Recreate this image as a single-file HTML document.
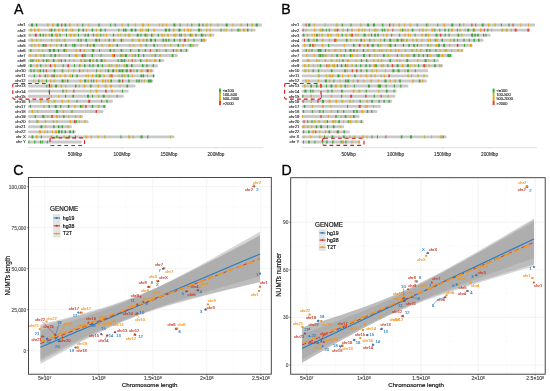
<!DOCTYPE html>
<html><head><meta charset="utf-8"><title>NUMTs figure</title>
<style>html,body{margin:0;padding:0;background:#fff;overflow:hidden}svg{display:block}text{font-family:"Liberation Sans",sans-serif}.t{stroke-width:0.18px}</style></head>
<body>
<svg width="550" height="391" viewBox="0 0 550 391">
<rect width="550" height="391" fill="#fff"/>
<g id="panelA">
<text x="13.9" y="14.4" font-size="14.1" fill="#000" stroke="#000" stroke-width="0.3">A</text>
<rect x="28.0" y="23.55" width="234.0" height="2.9" rx="1.2" fill="#c9c9c9"/>
<rect x="31.0" y="23.55" width="2.0" height="2.9" fill="#3aa637"/>
<rect x="35.9" y="23.55" width="1.4" height="2.9" fill="#3aa637"/>
<rect x="47.0" y="23.55" width="1.6" height="2.9" fill="#c4b636"/>
<rect x="52.1" y="23.55" width="1.6" height="2.9" fill="#f0a212"/>
<rect x="56.7" y="23.55" width="2.0" height="2.9" fill="#3aa637"/>
<rect x="61.2" y="23.55" width="1.1" height="2.9" fill="#e3423a"/>
<rect x="64.6" y="23.55" width="1.6" height="2.9" fill="#3aa637"/>
<rect x="69.0" y="23.55" width="1.6" height="2.9" fill="#f0a212"/>
<rect x="77.1" y="23.55" width="1.2" height="2.9" fill="#f0a212"/>
<rect x="82.2" y="23.55" width="1.1" height="2.9" fill="#3aa637"/>
<rect x="88.4" y="23.55" width="1.0" height="2.9" fill="#c4b636"/>
<rect x="98.3" y="23.55" width="1.4" height="2.9" fill="#3aa637"/>
<rect x="110.1" y="23.55" width="1.0" height="2.9" fill="#3aa637"/>
<rect x="114.6" y="23.55" width="1.2" height="2.9" fill="#3aa637"/>
<rect x="121.7" y="23.55" width="1.1" height="2.9" fill="#f0a212"/>
<rect x="127.6" y="23.55" width="1.1" height="2.9" fill="#3aa637"/>
<rect x="134.8" y="23.55" width="1.2" height="2.9" fill="#c4b636"/>
<rect x="142.0" y="23.55" width="2.0" height="2.9" fill="#f0a212"/>
<rect x="147.9" y="23.55" width="1.1" height="2.9" fill="#f0a212"/>
<rect x="158.8" y="23.55" width="1.0" height="2.9" fill="#f0a212"/>
<rect x="162.3" y="23.55" width="1.2" height="2.9" fill="#f0a212"/>
<rect x="165.9" y="23.55" width="1.0" height="2.9" fill="#f0a212"/>
<rect x="173.4" y="23.55" width="2.0" height="2.9" fill="#3aa637"/>
<rect x="179.6" y="23.55" width="1.0" height="2.9" fill="#3aa637"/>
<rect x="186.8" y="23.55" width="1.2" height="2.9" fill="#c4b636"/>
<rect x="191.3" y="23.55" width="1.0" height="2.9" fill="#3aa637"/>
<rect x="198.4" y="23.55" width="1.6" height="2.9" fill="#3aa637"/>
<rect x="202.4" y="23.55" width="1.0" height="2.9" fill="#3aa637"/>
<rect x="205.6" y="23.55" width="2.0" height="2.9" fill="#c4b636"/>
<rect x="210.1" y="23.55" width="1.1" height="2.9" fill="#c4b636"/>
<rect x="217.2" y="23.55" width="1.2" height="2.9" fill="#c4b636"/>
<rect x="225.7" y="23.55" width="2.0" height="2.9" fill="#3aa637"/>
<rect x="232.3" y="23.55" width="1.0" height="2.9" fill="#f0a212"/>
<rect x="240.5" y="23.55" width="1.4" height="2.9" fill="#c4b636"/>
<rect x="247.0" y="23.55" width="1.0" height="2.9" fill="#e3423a"/>
<rect x="251.4" y="23.55" width="1.6" height="2.9" fill="#c4b636"/>
<rect x="255.7" y="23.55" width="2.0" height="2.9" fill="#3aa637"/>
<text x="25.7" y="26.45" font-size="4.2" text-anchor="end" fill="#2a2a2a" stroke="#2a2a2a" stroke-width="0.13">chr1</text>
<rect x="28.0" y="28.64" width="227.7" height="2.9" rx="1.2" fill="#c9c9c9"/>
<rect x="30.2" y="28.64" width="1.6" height="2.9" fill="#c4b636"/>
<rect x="34.0" y="28.64" width="1.6" height="2.9" fill="#f0a212"/>
<rect x="37.8" y="28.64" width="1.4" height="2.9" fill="#f0a212"/>
<rect x="49.1" y="28.64" width="1.6" height="2.9" fill="#f0a212"/>
<rect x="50.9" y="28.64" width="1.4" height="2.9" fill="#3aa637"/>
<rect x="54.3" y="28.64" width="1.0" height="2.9" fill="#3aa637"/>
<rect x="58.1" y="28.64" width="1.4" height="2.9" fill="#f0a212"/>
<rect x="61.9" y="28.64" width="1.6" height="2.9" fill="#f0a212"/>
<rect x="65.7" y="28.64" width="1.0" height="2.9" fill="#3aa637"/>
<rect x="70.4" y="28.64" width="1.0" height="2.9" fill="#f0a212"/>
<rect x="72.0" y="28.64" width="1.4" height="2.9" fill="#c4b636"/>
<rect x="78.0" y="28.64" width="1.4" height="2.9" fill="#3aa637"/>
<rect x="82.5" y="28.64" width="1.4" height="2.9" fill="#3aa637"/>
<rect x="85.8" y="28.64" width="1.2" height="2.9" fill="#f0a212"/>
<rect x="91.7" y="28.64" width="1.4" height="2.9" fill="#3aa637"/>
<rect x="95.9" y="28.64" width="1.0" height="2.9" fill="#f0a212"/>
<rect x="100.0" y="28.64" width="1.6" height="2.9" fill="#3aa637"/>
<rect x="104.7" y="28.64" width="1.2" height="2.9" fill="#3aa637"/>
<rect x="118.3" y="28.64" width="1.0" height="2.9" fill="#3aa637"/>
<rect x="123.0" y="28.64" width="1.1" height="2.9" fill="#3aa637"/>
<rect x="124.6" y="28.64" width="2.0" height="2.9" fill="#3aa637"/>
<rect x="130.7" y="28.64" width="2.0" height="2.9" fill="#3aa637"/>
<rect x="134.7" y="28.64" width="1.6" height="2.9" fill="#3aa637"/>
<rect x="140.0" y="28.64" width="1.4" height="2.9" fill="#f0a212"/>
<rect x="141.8" y="28.64" width="1.0" height="2.9" fill="#c4b636"/>
<rect x="145.8" y="28.64" width="1.6" height="2.9" fill="#c4b636"/>
<rect x="147.9" y="28.64" width="1.1" height="2.9" fill="#3aa637"/>
<rect x="153.5" y="28.64" width="1.4" height="2.9" fill="#f0a212"/>
<rect x="164.9" y="28.64" width="2.0" height="2.9" fill="#3aa637"/>
<rect x="168.5" y="28.64" width="1.6" height="2.9" fill="#3aa637"/>
<rect x="172.9" y="28.64" width="1.6" height="2.9" fill="#f0a212"/>
<rect x="178.5" y="28.64" width="2.0" height="2.9" fill="#3aa637"/>
<rect x="183.8" y="28.64" width="1.1" height="2.9" fill="#f0a212"/>
<rect x="187.4" y="28.64" width="1.6" height="2.9" fill="#f0a212"/>
<rect x="190.4" y="28.64" width="1.1" height="2.9" fill="#f0a212"/>
<rect x="198.0" y="28.64" width="2.0" height="2.9" fill="#3aa637"/>
<rect x="200.5" y="28.64" width="1.2" height="2.9" fill="#f0a212"/>
<rect x="206.1" y="28.64" width="1.2" height="2.9" fill="#c4b636"/>
<rect x="209.5" y="28.64" width="1.1" height="2.9" fill="#f0a212"/>
<rect x="220.5" y="28.64" width="1.1" height="2.9" fill="#3aa637"/>
<rect x="223.5" y="28.64" width="1.1" height="2.9" fill="#c4b636"/>
<rect x="225.7" y="28.64" width="1.1" height="2.9" fill="#c4b636"/>
<rect x="231.1" y="28.64" width="1.2" height="2.9" fill="#c4b636"/>
<rect x="237.5" y="28.64" width="1.4" height="2.9" fill="#3aa637"/>
<rect x="239.2" y="28.64" width="1.4" height="2.9" fill="#c4b636"/>
<rect x="242.9" y="28.64" width="2.0" height="2.9" fill="#f0a212"/>
<rect x="247.0" y="28.64" width="1.4" height="2.9" fill="#3aa637"/>
<rect x="251.3" y="28.64" width="1.0" height="2.9" fill="#f0a212"/>
<text x="25.7" y="31.54" font-size="4.2" text-anchor="end" fill="#2a2a2a" stroke="#2a2a2a" stroke-width="0.13">chr2</text>
<rect x="28.0" y="33.72" width="186.4" height="2.9" rx="1.2" fill="#c9c9c9"/>
<rect x="29.4" y="33.72" width="1.1" height="2.9" fill="#c4b636"/>
<rect x="34.8" y="33.72" width="2.0" height="2.9" fill="#e3423a"/>
<rect x="39.6" y="33.72" width="1.4" height="2.9" fill="#3aa637"/>
<rect x="42.6" y="33.72" width="1.2" height="2.9" fill="#3aa637"/>
<rect x="45.1" y="33.72" width="1.6" height="2.9" fill="#c4b636"/>
<rect x="48.6" y="33.72" width="1.2" height="2.9" fill="#c4b636"/>
<rect x="50.9" y="33.72" width="2.0" height="2.9" fill="#3aa637"/>
<rect x="55.0" y="33.72" width="2.0" height="2.9" fill="#c4b636"/>
<rect x="56.1" y="33.72" width="2.0" height="2.9" fill="#f0a212"/>
<rect x="59.5" y="33.72" width="1.1" height="2.9" fill="#3aa637"/>
<rect x="65.9" y="33.72" width="1.1" height="2.9" fill="#3aa637"/>
<rect x="69.6" y="33.72" width="2.0" height="2.9" fill="#f0a212"/>
<rect x="73.5" y="33.72" width="2.0" height="2.9" fill="#c4b636"/>
<rect x="77.9" y="33.72" width="1.0" height="2.9" fill="#3aa637"/>
<rect x="84.6" y="33.72" width="1.2" height="2.9" fill="#3aa637"/>
<rect x="87.4" y="33.72" width="1.6" height="2.9" fill="#3aa637"/>
<rect x="92.8" y="33.72" width="1.1" height="2.9" fill="#3aa637"/>
<rect x="95.6" y="33.72" width="1.0" height="2.9" fill="#f0a212"/>
<rect x="96.5" y="33.72" width="2.0" height="2.9" fill="#c4b636"/>
<rect x="100.2" y="33.72" width="1.1" height="2.9" fill="#3aa637"/>
<rect x="103.0" y="33.72" width="1.2" height="2.9" fill="#f0a212"/>
<rect x="105.9" y="33.72" width="1.2" height="2.9" fill="#f0a212"/>
<rect x="112.9" y="33.72" width="1.2" height="2.9" fill="#3aa637"/>
<rect x="117.6" y="33.72" width="1.1" height="2.9" fill="#f0a212"/>
<rect x="120.4" y="33.72" width="1.0" height="2.9" fill="#c4b636"/>
<rect x="124.4" y="33.72" width="1.4" height="2.9" fill="#c4b636"/>
<rect x="127.8" y="33.72" width="1.6" height="2.9" fill="#c4b636"/>
<rect x="129.3" y="33.72" width="1.1" height="2.9" fill="#c4b636"/>
<rect x="136.7" y="33.72" width="2.0" height="2.9" fill="#3aa637"/>
<rect x="140.4" y="33.72" width="1.1" height="2.9" fill="#3aa637"/>
<rect x="144.5" y="33.72" width="2.0" height="2.9" fill="#3aa637"/>
<rect x="146.3" y="33.72" width="1.6" height="2.9" fill="#c4b636"/>
<rect x="150.9" y="33.72" width="1.6" height="2.9" fill="#3aa637"/>
<rect x="152.5" y="33.72" width="1.1" height="2.9" fill="#c4b636"/>
<rect x="157.7" y="33.72" width="1.2" height="2.9" fill="#3aa637"/>
<rect x="161.4" y="33.72" width="1.4" height="2.9" fill="#f0a212"/>
<rect x="163.8" y="33.72" width="1.0" height="2.9" fill="#c4b636"/>
<rect x="167.3" y="33.72" width="1.4" height="2.9" fill="#f0a212"/>
<rect x="173.4" y="33.72" width="1.4" height="2.9" fill="#f0a212"/>
<rect x="175.1" y="33.72" width="1.4" height="2.9" fill="#c4b636"/>
<rect x="179.3" y="33.72" width="1.0" height="2.9" fill="#3aa637"/>
<rect x="180.7" y="33.72" width="1.1" height="2.9" fill="#3aa637"/>
<rect x="184.3" y="33.72" width="1.6" height="2.9" fill="#c4b636"/>
<rect x="189.7" y="33.72" width="1.2" height="2.9" fill="#3aa637"/>
<rect x="190.7" y="33.72" width="2.0" height="2.9" fill="#f0a212"/>
<rect x="195.5" y="33.72" width="1.1" height="2.9" fill="#3aa637"/>
<rect x="200.7" y="33.72" width="2.0" height="2.9" fill="#3aa637"/>
<rect x="203.0" y="33.72" width="1.2" height="2.9" fill="#c4b636"/>
<rect x="204.9" y="33.72" width="1.2" height="2.9" fill="#c4b636"/>
<rect x="209.6" y="33.72" width="1.6" height="2.9" fill="#f0a212"/>
<text x="25.7" y="36.62" font-size="4.2" text-anchor="end" fill="#2a2a2a" stroke="#2a2a2a" stroke-width="0.13">chr3</text>
<rect x="28.0" y="38.81" width="178.8" height="2.9" rx="1.2" fill="#c9c9c9"/>
<rect x="31.3" y="38.81" width="1.6" height="2.9" fill="#c4b636"/>
<rect x="36.0" y="38.81" width="1.2" height="2.9" fill="#c4b636"/>
<rect x="40.4" y="38.81" width="1.0" height="2.9" fill="#c4b636"/>
<rect x="51.0" y="38.81" width="1.1" height="2.9" fill="#f0a212"/>
<rect x="56.2" y="38.81" width="1.4" height="2.9" fill="#c4b636"/>
<rect x="58.7" y="38.81" width="1.4" height="2.9" fill="#c4b636"/>
<rect x="63.5" y="38.81" width="2.0" height="2.9" fill="#c4b636"/>
<rect x="77.7" y="38.81" width="1.1" height="2.9" fill="#3aa637"/>
<rect x="80.5" y="38.81" width="1.2" height="2.9" fill="#3aa637"/>
<rect x="85.3" y="38.81" width="1.6" height="2.9" fill="#3aa637"/>
<rect x="95.3" y="38.81" width="2.0" height="2.9" fill="#3aa637"/>
<rect x="98.7" y="38.81" width="1.2" height="2.9" fill="#e3423a"/>
<rect x="104.8" y="38.81" width="1.0" height="2.9" fill="#f0a212"/>
<rect x="108.6" y="38.81" width="1.1" height="2.9" fill="#3aa637"/>
<rect x="113.2" y="38.81" width="1.1" height="2.9" fill="#3aa637"/>
<rect x="114.2" y="38.81" width="1.0" height="2.9" fill="#c4b636"/>
<rect x="120.6" y="38.81" width="1.6" height="2.9" fill="#3aa637"/>
<rect x="122.7" y="38.81" width="1.0" height="2.9" fill="#c4b636"/>
<rect x="131.5" y="38.81" width="2.0" height="2.9" fill="#c4b636"/>
<rect x="138.1" y="38.81" width="2.0" height="2.9" fill="#f0a212"/>
<rect x="142.7" y="38.81" width="1.6" height="2.9" fill="#f0a212"/>
<rect x="146.3" y="38.81" width="1.1" height="2.9" fill="#3aa637"/>
<rect x="150.0" y="38.81" width="2.0" height="2.9" fill="#3aa637"/>
<rect x="154.6" y="38.81" width="1.4" height="2.9" fill="#3aa637"/>
<rect x="162.5" y="38.81" width="1.6" height="2.9" fill="#3aa637"/>
<rect x="165.5" y="38.81" width="1.4" height="2.9" fill="#3aa637"/>
<rect x="168.2" y="38.81" width="1.2" height="2.9" fill="#3aa637"/>
<rect x="173.6" y="38.81" width="1.4" height="2.9" fill="#3aa637"/>
<rect x="179.4" y="38.81" width="1.2" height="2.9" fill="#3aa637"/>
<rect x="183.9" y="38.81" width="2.0" height="2.9" fill="#e3423a"/>
<rect x="187.9" y="38.81" width="1.2" height="2.9" fill="#c4b636"/>
<rect x="193.5" y="38.81" width="1.1" height="2.9" fill="#3aa637"/>
<rect x="200.9" y="38.81" width="1.4" height="2.9" fill="#3aa637"/>
<rect x="203.0" y="38.81" width="2.0" height="2.9" fill="#f0a212"/>
<text x="25.7" y="41.71" font-size="4.2" text-anchor="end" fill="#2a2a2a" stroke="#2a2a2a" stroke-width="0.13">chr4</text>
<rect x="28.0" y="43.90" width="170.6" height="2.9" rx="1.2" fill="#c9c9c9"/>
<rect x="31.0" y="43.90" width="1.6" height="2.9" fill="#c4b636"/>
<rect x="34.5" y="43.90" width="1.0" height="2.9" fill="#f0a212"/>
<rect x="38.2" y="43.90" width="1.2" height="2.9" fill="#f0a212"/>
<rect x="42.5" y="43.90" width="2.0" height="2.9" fill="#3aa637"/>
<rect x="45.3" y="43.90" width="1.2" height="2.9" fill="#e3423a"/>
<rect x="50.3" y="43.90" width="1.0" height="2.9" fill="#f0a212"/>
<rect x="56.1" y="43.90" width="1.0" height="2.9" fill="#c4b636"/>
<rect x="60.7" y="43.90" width="1.2" height="2.9" fill="#3aa637"/>
<rect x="65.0" y="43.90" width="1.6" height="2.9" fill="#3aa637"/>
<rect x="72.3" y="43.90" width="1.1" height="2.9" fill="#3aa637"/>
<rect x="74.0" y="43.90" width="1.6" height="2.9" fill="#3aa637"/>
<rect x="80.5" y="43.90" width="1.4" height="2.9" fill="#c4b636"/>
<rect x="86.8" y="43.90" width="1.1" height="2.9" fill="#3aa637"/>
<rect x="89.2" y="43.90" width="2.0" height="2.9" fill="#c4b636"/>
<rect x="92.9" y="43.90" width="2.0" height="2.9" fill="#3aa637"/>
<rect x="101.5" y="43.90" width="1.4" height="2.9" fill="#c4b636"/>
<rect x="108.5" y="43.90" width="2.0" height="2.9" fill="#f0a212"/>
<rect x="112.4" y="43.90" width="1.0" height="2.9" fill="#c4b636"/>
<rect x="116.6" y="43.90" width="1.4" height="2.9" fill="#3aa637"/>
<rect x="129.2" y="43.90" width="1.1" height="2.9" fill="#f0a212"/>
<rect x="133.4" y="43.90" width="1.0" height="2.9" fill="#f0a212"/>
<rect x="140.3" y="43.90" width="1.1" height="2.9" fill="#f0a212"/>
<rect x="145.5" y="43.90" width="1.1" height="2.9" fill="#3aa637"/>
<rect x="153.3" y="43.90" width="1.6" height="2.9" fill="#3aa637"/>
<rect x="157.0" y="43.90" width="1.0" height="2.9" fill="#c4b636"/>
<rect x="164.5" y="43.90" width="1.0" height="2.9" fill="#f0a212"/>
<rect x="170.1" y="43.90" width="1.1" height="2.9" fill="#c4b636"/>
<rect x="177.6" y="43.90" width="1.4" height="2.9" fill="#3aa637"/>
<rect x="182.4" y="43.90" width="1.4" height="2.9" fill="#f0a212"/>
<rect x="189.7" y="43.90" width="1.6" height="2.9" fill="#3aa637"/>
<rect x="192.4" y="43.90" width="1.6" height="2.9" fill="#c4b636"/>
<text x="25.7" y="46.80" font-size="4.2" text-anchor="end" fill="#2a2a2a" stroke="#2a2a2a" stroke-width="0.13">chr5</text>
<rect x="28.0" y="48.98" width="160.6" height="2.9" rx="1.2" fill="#c9c9c9"/>
<rect x="30.3" y="48.98" width="1.1" height="2.9" fill="#3aa637"/>
<rect x="38.4" y="48.98" width="1.0" height="2.9" fill="#c4b636"/>
<rect x="42.2" y="48.98" width="1.1" height="2.9" fill="#c4b636"/>
<rect x="48.8" y="48.98" width="2.0" height="2.9" fill="#3aa637"/>
<rect x="53.0" y="48.98" width="2.0" height="2.9" fill="#3aa637"/>
<rect x="57.9" y="48.98" width="1.2" height="2.9" fill="#3aa637"/>
<rect x="63.4" y="48.98" width="2.0" height="2.9" fill="#3aa637"/>
<rect x="65.8" y="48.98" width="1.0" height="2.9" fill="#f0a212"/>
<rect x="75.7" y="48.98" width="1.1" height="2.9" fill="#f0a212"/>
<rect x="79.7" y="48.98" width="1.1" height="2.9" fill="#e3423a"/>
<rect x="83.7" y="48.98" width="1.2" height="2.9" fill="#f0a212"/>
<rect x="92.1" y="48.98" width="2.0" height="2.9" fill="#3aa637"/>
<rect x="99.0" y="48.98" width="1.0" height="2.9" fill="#3aa637"/>
<rect x="109.5" y="48.98" width="1.6" height="2.9" fill="#3aa637"/>
<rect x="113.5" y="48.98" width="1.0" height="2.9" fill="#3aa637"/>
<rect x="120.7" y="48.98" width="1.6" height="2.9" fill="#3aa637"/>
<rect x="130.0" y="48.98" width="1.2" height="2.9" fill="#3aa637"/>
<rect x="138.0" y="48.98" width="1.6" height="2.9" fill="#3aa637"/>
<rect x="144.7" y="48.98" width="1.2" height="2.9" fill="#3aa637"/>
<rect x="149.8" y="48.98" width="1.1" height="2.9" fill="#e3423a"/>
<rect x="156.2" y="48.98" width="1.2" height="2.9" fill="#3aa637"/>
<rect x="158.8" y="48.98" width="1.0" height="2.9" fill="#c4b636"/>
<rect x="165.5" y="48.98" width="1.1" height="2.9" fill="#3aa637"/>
<rect x="172.9" y="48.98" width="1.0" height="2.9" fill="#e3423a"/>
<rect x="175.7" y="48.98" width="1.6" height="2.9" fill="#f0a212"/>
<rect x="180.4" y="48.98" width="1.4" height="2.9" fill="#3aa637"/>
<rect x="185.8" y="48.98" width="1.0" height="2.9" fill="#3aa637"/>
<text x="25.7" y="51.89" font-size="4.2" text-anchor="end" fill="#2a2a2a" stroke="#2a2a2a" stroke-width="0.13">chr6</text>
<rect x="28.0" y="54.07" width="149.8" height="2.9" rx="1.2" fill="#c9c9c9"/>
<rect x="29.6" y="54.07" width="1.1" height="2.9" fill="#f0a212"/>
<rect x="35.2" y="54.07" width="1.4" height="2.9" fill="#f0a212"/>
<rect x="40.3" y="54.07" width="1.1" height="2.9" fill="#c4b636"/>
<rect x="43.5" y="54.07" width="1.0" height="2.9" fill="#3aa637"/>
<rect x="50.4" y="54.07" width="1.2" height="2.9" fill="#3aa637"/>
<rect x="54.4" y="54.07" width="1.6" height="2.9" fill="#3aa637"/>
<rect x="58.6" y="54.07" width="1.4" height="2.9" fill="#c4b636"/>
<rect x="68.7" y="54.07" width="1.1" height="2.9" fill="#3aa637"/>
<rect x="74.8" y="54.07" width="1.2" height="2.9" fill="#f0a212"/>
<rect x="75.8" y="54.07" width="1.4" height="2.9" fill="#f0a212"/>
<rect x="81.6" y="54.07" width="2.0" height="2.9" fill="#e3423a"/>
<rect x="84.3" y="54.07" width="1.4" height="2.9" fill="#3aa637"/>
<rect x="91.6" y="54.07" width="1.4" height="2.9" fill="#3aa637"/>
<rect x="100.5" y="54.07" width="1.0" height="2.9" fill="#3aa637"/>
<rect x="111.9" y="54.07" width="1.2" height="2.9" fill="#f0a212"/>
<rect x="113.4" y="54.07" width="1.6" height="2.9" fill="#e3423a"/>
<rect x="120.4" y="54.07" width="1.1" height="2.9" fill="#3aa637"/>
<rect x="122.2" y="54.07" width="1.6" height="2.9" fill="#c4b636"/>
<rect x="124.9" y="54.07" width="2.0" height="2.9" fill="#3aa637"/>
<rect x="132.1" y="54.07" width="1.2" height="2.9" fill="#c4b636"/>
<rect x="134.7" y="54.07" width="1.0" height="2.9" fill="#3aa637"/>
<rect x="138.0" y="54.07" width="1.2" height="2.9" fill="#3aa637"/>
<rect x="143.1" y="54.07" width="1.1" height="2.9" fill="#3aa637"/>
<rect x="151.5" y="54.07" width="1.0" height="2.9" fill="#c4b636"/>
<rect x="154.6" y="54.07" width="1.2" height="2.9" fill="#3aa637"/>
<rect x="159.3" y="54.07" width="1.4" height="2.9" fill="#c4b636"/>
<rect x="171.8" y="54.07" width="1.4" height="2.9" fill="#3aa637"/>
<text x="25.7" y="56.97" font-size="4.2" text-anchor="end" fill="#2a2a2a" stroke="#2a2a2a" stroke-width="0.13">chr7</text>
<rect x="28.0" y="59.16" width="136.4" height="2.9" rx="1.2" fill="#c9c9c9"/>
<rect x="30.4" y="59.16" width="1.1" height="2.9" fill="#3aa637"/>
<rect x="32.3" y="59.16" width="1.2" height="2.9" fill="#3aa637"/>
<rect x="35.8" y="59.16" width="1.1" height="2.9" fill="#f0a212"/>
<rect x="37.9" y="59.16" width="1.6" height="2.9" fill="#f0a212"/>
<rect x="42.8" y="59.16" width="1.0" height="2.9" fill="#e3423a"/>
<rect x="46.0" y="59.16" width="1.4" height="2.9" fill="#3aa637"/>
<rect x="47.8" y="59.16" width="1.6" height="2.9" fill="#c4b636"/>
<rect x="52.9" y="59.16" width="1.6" height="2.9" fill="#3aa637"/>
<rect x="57.8" y="59.16" width="2.0" height="2.9" fill="#c4b636"/>
<rect x="60.7" y="59.16" width="1.2" height="2.9" fill="#e3423a"/>
<rect x="64.7" y="59.16" width="1.0" height="2.9" fill="#3aa637"/>
<rect x="69.0" y="59.16" width="1.2" height="2.9" fill="#c4b636"/>
<rect x="73.3" y="59.16" width="1.1" height="2.9" fill="#c4b636"/>
<rect x="80.1" y="59.16" width="2.0" height="2.9" fill="#f0a212"/>
<rect x="84.4" y="59.16" width="1.1" height="2.9" fill="#3aa637"/>
<rect x="86.4" y="59.16" width="1.1" height="2.9" fill="#c4b636"/>
<rect x="88.9" y="59.16" width="2.0" height="2.9" fill="#3aa637"/>
<rect x="92.4" y="59.16" width="1.6" height="2.9" fill="#f0a212"/>
<rect x="96.2" y="59.16" width="1.4" height="2.9" fill="#3aa637"/>
<rect x="100.6" y="59.16" width="2.0" height="2.9" fill="#3aa637"/>
<rect x="104.3" y="59.16" width="1.4" height="2.9" fill="#f0a212"/>
<rect x="117.6" y="59.16" width="1.1" height="2.9" fill="#3aa637"/>
<rect x="120.7" y="59.16" width="2.0" height="2.9" fill="#3aa637"/>
<rect x="123.7" y="59.16" width="1.6" height="2.9" fill="#3aa637"/>
<rect x="128.0" y="59.16" width="1.0" height="2.9" fill="#c4b636"/>
<rect x="131.7" y="59.16" width="1.0" height="2.9" fill="#e3423a"/>
<rect x="134.6" y="59.16" width="1.2" height="2.9" fill="#c4b636"/>
<rect x="140.0" y="59.16" width="1.4" height="2.9" fill="#3aa637"/>
<rect x="145.6" y="59.16" width="2.0" height="2.9" fill="#f0a212"/>
<rect x="149.4" y="59.16" width="1.1" height="2.9" fill="#f0a212"/>
<rect x="154.1" y="59.16" width="1.4" height="2.9" fill="#f0a212"/>
<rect x="155.4" y="59.16" width="1.0" height="2.9" fill="#c4b636"/>
<rect x="159.0" y="59.16" width="1.4" height="2.9" fill="#3aa637"/>
<text x="25.7" y="62.06" font-size="4.2" text-anchor="end" fill="#2a2a2a" stroke="#2a2a2a" stroke-width="0.13">chr8</text>
<rect x="28.0" y="64.25" width="130.1" height="2.9" rx="1.2" fill="#c9c9c9"/>
<rect x="30.1" y="64.25" width="1.6" height="2.9" fill="#3aa637"/>
<rect x="36.3" y="64.25" width="1.6" height="2.9" fill="#f0a212"/>
<rect x="40.3" y="64.25" width="1.1" height="2.9" fill="#3aa637"/>
<rect x="45.4" y="64.25" width="1.1" height="2.9" fill="#c4b636"/>
<rect x="49.8" y="64.25" width="1.4" height="2.9" fill="#e3423a"/>
<rect x="54.0" y="64.25" width="2.0" height="2.9" fill="#f0a212"/>
<rect x="62.7" y="64.25" width="1.0" height="2.9" fill="#3aa637"/>
<rect x="67.4" y="64.25" width="1.6" height="2.9" fill="#e3423a"/>
<rect x="74.0" y="64.25" width="1.0" height="2.9" fill="#3aa637"/>
<rect x="79.1" y="64.25" width="1.0" height="2.9" fill="#3aa637"/>
<rect x="79.5" y="64.25" width="1.2" height="2.9" fill="#c4b636"/>
<rect x="84.0" y="64.25" width="1.4" height="2.9" fill="#3aa637"/>
<rect x="89.2" y="64.25" width="1.1" height="2.9" fill="#3aa637"/>
<rect x="92.4" y="64.25" width="1.2" height="2.9" fill="#3aa637"/>
<rect x="97.3" y="64.25" width="1.6" height="2.9" fill="#3aa637"/>
<rect x="101.8" y="64.25" width="1.1" height="2.9" fill="#3aa637"/>
<rect x="108.3" y="64.25" width="2.0" height="2.9" fill="#c4b636"/>
<rect x="111.2" y="64.25" width="1.2" height="2.9" fill="#f0a212"/>
<rect x="115.7" y="64.25" width="2.0" height="2.9" fill="#c4b636"/>
<rect x="119.0" y="64.25" width="1.0" height="2.9" fill="#c4b636"/>
<rect x="123.6" y="64.25" width="1.4" height="2.9" fill="#c4b636"/>
<rect x="125.8" y="64.25" width="2.0" height="2.9" fill="#3aa637"/>
<rect x="131.0" y="64.25" width="1.6" height="2.9" fill="#3aa637"/>
<rect x="141.9" y="64.25" width="1.6" height="2.9" fill="#3aa637"/>
<rect x="146.4" y="64.25" width="1.2" height="2.9" fill="#3aa637"/>
<rect x="152.7" y="64.25" width="1.2" height="2.9" fill="#3aa637"/>
<text x="25.7" y="67.15" font-size="4.2" text-anchor="end" fill="#2a2a2a" stroke="#2a2a2a" stroke-width="0.13">chr9</text>
<rect x="28.0" y="69.33" width="125.8" height="2.9" rx="1.2" fill="#c9c9c9"/>
<rect x="30.4" y="69.33" width="1.2" height="2.9" fill="#3aa637"/>
<rect x="33.4" y="69.33" width="1.2" height="2.9" fill="#3aa637"/>
<rect x="37.1" y="69.33" width="1.6" height="2.9" fill="#f0a212"/>
<rect x="39.6" y="69.33" width="1.4" height="2.9" fill="#3aa637"/>
<rect x="42.8" y="69.33" width="1.2" height="2.9" fill="#3aa637"/>
<rect x="45.8" y="69.33" width="1.1" height="2.9" fill="#e3423a"/>
<rect x="53.7" y="69.33" width="1.6" height="2.9" fill="#3aa637"/>
<rect x="61.7" y="69.33" width="1.4" height="2.9" fill="#3aa637"/>
<rect x="62.5" y="69.33" width="1.0" height="2.9" fill="#c4b636"/>
<rect x="68.0" y="69.33" width="1.0" height="2.9" fill="#c4b636"/>
<rect x="72.9" y="69.33" width="1.6" height="2.9" fill="#c4b636"/>
<rect x="79.2" y="69.33" width="1.0" height="2.9" fill="#e3423a"/>
<rect x="82.4" y="69.33" width="1.1" height="2.9" fill="#c4b636"/>
<rect x="87.1" y="69.33" width="1.1" height="2.9" fill="#c4b636"/>
<rect x="96.1" y="69.33" width="1.0" height="2.9" fill="#3aa637"/>
<rect x="100.2" y="69.33" width="1.1" height="2.9" fill="#c4b636"/>
<rect x="105.0" y="69.33" width="1.0" height="2.9" fill="#c4b636"/>
<rect x="107.6" y="69.33" width="1.6" height="2.9" fill="#3aa637"/>
<rect x="112.1" y="69.33" width="2.0" height="2.9" fill="#3aa637"/>
<rect x="115.8" y="69.33" width="1.4" height="2.9" fill="#f0a212"/>
<rect x="118.6" y="69.33" width="2.0" height="2.9" fill="#3aa637"/>
<rect x="121.5" y="69.33" width="2.0" height="2.9" fill="#3aa637"/>
<rect x="125.7" y="69.33" width="2.0" height="2.9" fill="#3aa637"/>
<rect x="129.8" y="69.33" width="1.6" height="2.9" fill="#e3423a"/>
<rect x="133.0" y="69.33" width="1.4" height="2.9" fill="#f0a212"/>
<rect x="136.4" y="69.33" width="1.2" height="2.9" fill="#3aa637"/>
<rect x="140.7" y="69.33" width="2.0" height="2.9" fill="#f0a212"/>
<rect x="146.6" y="69.33" width="2.0" height="2.9" fill="#e3423a"/>
<rect x="150.0" y="69.33" width="2.0" height="2.9" fill="#f0a212"/>
<text x="25.7" y="72.23" font-size="4.2" text-anchor="end" fill="#2a2a2a" stroke="#2a2a2a" stroke-width="0.13">chr10</text>
<rect x="28.0" y="74.42" width="127.0" height="2.9" rx="1.2" fill="#c9c9c9"/>
<rect x="33.8" y="74.42" width="1.2" height="2.9" fill="#3aa637"/>
<rect x="39.4" y="74.42" width="1.0" height="2.9" fill="#e3423a"/>
<rect x="44.6" y="74.42" width="1.4" height="2.9" fill="#3aa637"/>
<rect x="46.9" y="74.42" width="1.6" height="2.9" fill="#f0a212"/>
<rect x="51.5" y="74.42" width="1.0" height="2.9" fill="#e3423a"/>
<rect x="53.3" y="74.42" width="1.6" height="2.9" fill="#3aa637"/>
<rect x="56.6" y="74.42" width="1.0" height="2.9" fill="#f0a212"/>
<rect x="59.6" y="74.42" width="1.1" height="2.9" fill="#f0a212"/>
<rect x="64.4" y="74.42" width="1.6" height="2.9" fill="#f0a212"/>
<rect x="69.7" y="74.42" width="1.2" height="2.9" fill="#f0a212"/>
<rect x="71.9" y="74.42" width="1.1" height="2.9" fill="#3aa637"/>
<rect x="76.4" y="74.42" width="1.4" height="2.9" fill="#3aa637"/>
<rect x="85.5" y="74.42" width="1.1" height="2.9" fill="#f0a212"/>
<rect x="87.8" y="74.42" width="1.1" height="2.9" fill="#f0a212"/>
<rect x="91.8" y="74.42" width="1.4" height="2.9" fill="#f0a212"/>
<rect x="95.7" y="74.42" width="1.0" height="2.9" fill="#3aa637"/>
<rect x="97.4" y="74.42" width="1.6" height="2.9" fill="#c4b636"/>
<rect x="99.1" y="74.42" width="1.6" height="2.9" fill="#3aa637"/>
<rect x="103.4" y="74.42" width="1.4" height="2.9" fill="#f0a212"/>
<rect x="109.1" y="74.42" width="2.0" height="2.9" fill="#f0a212"/>
<rect x="111.2" y="74.42" width="1.4" height="2.9" fill="#e3423a"/>
<rect x="118.6" y="74.42" width="1.1" height="2.9" fill="#c4b636"/>
<rect x="121.5" y="74.42" width="1.0" height="2.9" fill="#3aa637"/>
<rect x="123.6" y="74.42" width="2.0" height="2.9" fill="#c4b636"/>
<rect x="127.6" y="74.42" width="1.2" height="2.9" fill="#3aa637"/>
<rect x="131.8" y="74.42" width="1.0" height="2.9" fill="#f0a212"/>
<rect x="140.5" y="74.42" width="1.4" height="2.9" fill="#3aa637"/>
<rect x="142.5" y="74.42" width="1.6" height="2.9" fill="#3aa637"/>
<rect x="147.0" y="74.42" width="1.0" height="2.9" fill="#f0a212"/>
<rect x="152.9" y="74.42" width="1.2" height="2.9" fill="#3aa637"/>
<text x="25.7" y="77.32" font-size="4.2" text-anchor="end" fill="#2a2a2a" stroke="#2a2a2a" stroke-width="0.13">chr11</text>
<rect x="28.0" y="79.51" width="125.3" height="2.9" rx="1.2" fill="#c9c9c9"/>
<rect x="33.2" y="79.51" width="1.1" height="2.9" fill="#f0a212"/>
<rect x="38.2" y="79.51" width="1.2" height="2.9" fill="#3aa637"/>
<rect x="41.8" y="79.51" width="1.0" height="2.9" fill="#f0a212"/>
<rect x="45.9" y="79.51" width="1.2" height="2.9" fill="#3aa637"/>
<rect x="50.2" y="79.51" width="1.0" height="2.9" fill="#f0a212"/>
<rect x="53.5" y="79.51" width="1.4" height="2.9" fill="#c4b636"/>
<rect x="61.6" y="79.51" width="2.0" height="2.9" fill="#3aa637"/>
<rect x="64.4" y="79.51" width="1.4" height="2.9" fill="#c4b636"/>
<rect x="67.0" y="79.51" width="1.4" height="2.9" fill="#3aa637"/>
<rect x="79.5" y="79.51" width="1.4" height="2.9" fill="#f0a212"/>
<rect x="84.2" y="79.51" width="2.0" height="2.9" fill="#3aa637"/>
<rect x="87.4" y="79.51" width="1.6" height="2.9" fill="#c4b636"/>
<rect x="90.8" y="79.51" width="1.0" height="2.9" fill="#3aa637"/>
<rect x="93.1" y="79.51" width="1.1" height="2.9" fill="#3aa637"/>
<rect x="96.0" y="79.51" width="1.4" height="2.9" fill="#f0a212"/>
<rect x="102.0" y="79.51" width="1.6" height="2.9" fill="#f0a212"/>
<rect x="104.7" y="79.51" width="1.4" height="2.9" fill="#f0a212"/>
<rect x="107.4" y="79.51" width="1.4" height="2.9" fill="#f0a212"/>
<rect x="110.4" y="79.51" width="1.6" height="2.9" fill="#3aa637"/>
<rect x="118.4" y="79.51" width="2.0" height="2.9" fill="#3aa637"/>
<rect x="122.0" y="79.51" width="1.2" height="2.9" fill="#e3423a"/>
<rect x="128.2" y="79.51" width="1.4" height="2.9" fill="#3aa637"/>
<rect x="136.2" y="79.51" width="1.2" height="2.9" fill="#3aa637"/>
<rect x="138.4" y="79.51" width="1.4" height="2.9" fill="#3aa637"/>
<rect x="141.0" y="79.51" width="1.2" height="2.9" fill="#f0a212"/>
<rect x="143.8" y="79.51" width="1.2" height="2.9" fill="#c4b636"/>
<rect x="147.9" y="79.51" width="2.0" height="2.9" fill="#3aa637"/>
<rect x="150.0" y="79.51" width="1.6" height="2.9" fill="#3aa637"/>
<text x="25.7" y="82.41" font-size="4.2" text-anchor="end" fill="#2a2a2a" stroke="#2a2a2a" stroke-width="0.13">chr12</text>
<rect x="28.0" y="84.59" width="107.5" height="2.9" rx="1.2" fill="#c9c9c9"/>
<rect x="46.3" y="84.59" width="1.0" height="2.9" fill="#3aa637"/>
<rect x="50.3" y="84.59" width="2.0" height="2.9" fill="#f0a212"/>
<rect x="55.1" y="84.59" width="2.0" height="2.9" fill="#3aa637"/>
<rect x="60.5" y="84.59" width="1.6" height="2.9" fill="#f0a212"/>
<rect x="65.0" y="84.59" width="1.2" height="2.9" fill="#c4b636"/>
<rect x="75.0" y="84.59" width="1.4" height="2.9" fill="#3aa637"/>
<rect x="78.8" y="84.59" width="1.2" height="2.9" fill="#c4b636"/>
<rect x="83.7" y="84.59" width="1.6" height="2.9" fill="#f0a212"/>
<rect x="90.1" y="84.59" width="1.4" height="2.9" fill="#3aa637"/>
<rect x="97.7" y="84.59" width="1.2" height="2.9" fill="#f0a212"/>
<rect x="104.7" y="84.59" width="2.0" height="2.9" fill="#c4b636"/>
<rect x="110.1" y="84.59" width="1.6" height="2.9" fill="#f0a212"/>
<rect x="119.4" y="84.59" width="1.1" height="2.9" fill="#c4b636"/>
<rect x="126.5" y="84.59" width="1.6" height="2.9" fill="#3aa637"/>
<text x="25.7" y="87.49" font-size="4.2" text-anchor="end" fill="#2a2a2a" stroke="#2a2a2a" stroke-width="0.13">chr13</text>
<rect x="28.0" y="89.68" width="100.6" height="2.9" rx="1.2" fill="#c9c9c9"/>
<rect x="48.8" y="89.68" width="1.2" height="2.9" fill="#3aa637"/>
<rect x="62.4" y="89.68" width="1.2" height="2.9" fill="#3aa637"/>
<rect x="65.6" y="89.68" width="1.6" height="2.9" fill="#c4b636"/>
<rect x="73.3" y="89.68" width="1.1" height="2.9" fill="#e3423a"/>
<rect x="90.1" y="89.68" width="1.0" height="2.9" fill="#c4b636"/>
<rect x="95.8" y="89.68" width="1.6" height="2.9" fill="#f0a212"/>
<rect x="105.1" y="89.68" width="1.6" height="2.9" fill="#e3423a"/>
<rect x="111.1" y="89.68" width="1.6" height="2.9" fill="#f0a212"/>
<rect x="121.9" y="89.68" width="1.1" height="2.9" fill="#3aa637"/>
<text x="25.7" y="92.58" font-size="4.2" text-anchor="end" fill="#2a2a2a" stroke="#2a2a2a" stroke-width="0.13">chr14</text>
<rect x="28.0" y="94.77" width="95.9" height="2.9" rx="1.2" fill="#c9c9c9"/>
<rect x="50.7" y="94.77" width="1.2" height="2.9" fill="#f0a212"/>
<rect x="58.2" y="94.77" width="1.0" height="2.9" fill="#f0a212"/>
<rect x="65.0" y="94.77" width="1.1" height="2.9" fill="#3aa637"/>
<rect x="72.4" y="94.77" width="1.6" height="2.9" fill="#3aa637"/>
<rect x="87.0" y="94.77" width="2.0" height="2.9" fill="#3aa637"/>
<rect x="92.0" y="94.77" width="1.0" height="2.9" fill="#3aa637"/>
<rect x="97.9" y="94.77" width="1.6" height="2.9" fill="#c4b636"/>
<rect x="102.7" y="94.77" width="2.0" height="2.9" fill="#3aa637"/>
<rect x="108.6" y="94.77" width="1.1" height="2.9" fill="#c4b636"/>
<rect x="116.6" y="94.77" width="1.0" height="2.9" fill="#3aa637"/>
<text x="25.7" y="97.67" font-size="4.2" text-anchor="end" fill="#2a2a2a" stroke="#2a2a2a" stroke-width="0.13">chr15</text>
<rect x="28.0" y="99.85" width="84.9" height="2.9" rx="1.2" fill="#c9c9c9"/>
<rect x="28.9" y="99.85" width="1.1" height="2.9" fill="#3aa637"/>
<rect x="40.2" y="99.85" width="1.1" height="2.9" fill="#f0a212"/>
<rect x="47.3" y="99.85" width="2.0" height="2.9" fill="#c4b636"/>
<rect x="53.6" y="99.85" width="2.0" height="2.9" fill="#c4b636"/>
<rect x="61.6" y="99.85" width="1.2" height="2.9" fill="#f0a212"/>
<rect x="67.9" y="99.85" width="1.2" height="2.9" fill="#c4b636"/>
<rect x="76.5" y="99.85" width="1.0" height="2.9" fill="#3aa637"/>
<rect x="88.2" y="99.85" width="2.0" height="2.9" fill="#e3423a"/>
<rect x="101.2" y="99.85" width="1.0" height="2.9" fill="#3aa637"/>
<rect x="106.4" y="99.85" width="1.2" height="2.9" fill="#3aa637"/>
<text x="25.7" y="102.75" font-size="4.2" text-anchor="end" fill="#2a2a2a" stroke="#2a2a2a" stroke-width="0.13">chr16</text>
<rect x="28.0" y="104.94" width="78.3" height="2.9" rx="1.2" fill="#c9c9c9"/>
<rect x="29.8" y="104.94" width="1.2" height="2.9" fill="#3aa637"/>
<rect x="43.1" y="104.94" width="1.6" height="2.9" fill="#c4b636"/>
<rect x="48.5" y="104.94" width="1.4" height="2.9" fill="#3aa637"/>
<rect x="54.7" y="104.94" width="2.0" height="2.9" fill="#3aa637"/>
<rect x="60.1" y="104.94" width="1.2" height="2.9" fill="#3aa637"/>
<rect x="67.8" y="104.94" width="1.6" height="2.9" fill="#3aa637"/>
<rect x="74.2" y="104.94" width="1.4" height="2.9" fill="#f0a212"/>
<rect x="80.0" y="104.94" width="1.6" height="2.9" fill="#3aa637"/>
<rect x="82.1" y="104.94" width="1.2" height="2.9" fill="#f0a212"/>
<rect x="85.2" y="104.94" width="1.4" height="2.9" fill="#e3423a"/>
<rect x="91.7" y="104.94" width="1.6" height="2.9" fill="#3aa637"/>
<rect x="97.6" y="104.94" width="2.0" height="2.9" fill="#c4b636"/>
<rect x="103.3" y="104.94" width="1.6" height="2.9" fill="#3aa637"/>
<text x="25.7" y="107.84" font-size="4.2" text-anchor="end" fill="#2a2a2a" stroke="#2a2a2a" stroke-width="0.13">chr17</text>
<rect x="28.0" y="110.03" width="75.5" height="2.9" rx="1.2" fill="#c9c9c9"/>
<rect x="31.6" y="110.03" width="1.4" height="2.9" fill="#f0a212"/>
<rect x="37.1" y="110.03" width="1.2" height="2.9" fill="#c4b636"/>
<rect x="56.1" y="110.03" width="2.0" height="2.9" fill="#3aa637"/>
<rect x="62.7" y="110.03" width="1.4" height="2.9" fill="#f0a212"/>
<rect x="71.5" y="110.03" width="1.0" height="2.9" fill="#3aa637"/>
<rect x="95.6" y="110.03" width="1.4" height="2.9" fill="#e3423a"/>
<text x="25.7" y="112.93" font-size="4.2" text-anchor="end" fill="#2a2a2a" stroke="#2a2a2a" stroke-width="0.13">chr18</text>
<rect x="28.0" y="115.12" width="55.1" height="2.9" rx="1.2" fill="#c9c9c9"/>
<rect x="34.7" y="115.12" width="1.2" height="2.9" fill="#3aa637"/>
<rect x="42.3" y="115.12" width="2.0" height="2.9" fill="#3aa637"/>
<rect x="47.3" y="115.12" width="1.2" height="2.9" fill="#c4b636"/>
<rect x="51.2" y="115.12" width="1.6" height="2.9" fill="#e3423a"/>
<rect x="55.9" y="115.12" width="2.0" height="2.9" fill="#f0a212"/>
<rect x="59.1" y="115.12" width="1.0" height="2.9" fill="#c4b636"/>
<rect x="63.1" y="115.12" width="1.4" height="2.9" fill="#3aa637"/>
<rect x="68.2" y="115.12" width="1.0" height="2.9" fill="#c4b636"/>
<rect x="75.0" y="115.12" width="1.4" height="2.9" fill="#f0a212"/>
<rect x="79.7" y="115.12" width="1.4" height="2.9" fill="#f0a212"/>
<text x="25.7" y="118.02" font-size="4.2" text-anchor="end" fill="#2a2a2a" stroke="#2a2a2a" stroke-width="0.13">chr19</text>
<rect x="28.0" y="120.20" width="60.6" height="2.9" rx="1.2" fill="#c9c9c9"/>
<rect x="28.9" y="120.20" width="1.0" height="2.9" fill="#c4b636"/>
<rect x="36.6" y="120.20" width="1.4" height="2.9" fill="#3aa637"/>
<rect x="37.1" y="120.20" width="1.4" height="2.9" fill="#f0a212"/>
<rect x="44.7" y="120.20" width="1.6" height="2.9" fill="#c4b636"/>
<rect x="52.6" y="120.20" width="1.6" height="2.9" fill="#c4b636"/>
<rect x="56.4" y="120.20" width="1.2" height="2.9" fill="#c4b636"/>
<rect x="69.5" y="120.20" width="1.4" height="2.9" fill="#f0a212"/>
<rect x="73.9" y="120.20" width="1.6" height="2.9" fill="#e3423a"/>
<rect x="75.8" y="120.20" width="1.1" height="2.9" fill="#3aa637"/>
<rect x="78.8" y="120.20" width="1.0" height="2.9" fill="#c4b636"/>
<rect x="84.4" y="120.20" width="1.1" height="2.9" fill="#f0a212"/>
<text x="25.7" y="123.10" font-size="4.2" text-anchor="end" fill="#2a2a2a" stroke="#2a2a2a" stroke-width="0.13">chr20</text>
<rect x="28.0" y="125.29" width="43.9" height="2.9" rx="1.2" fill="#c9c9c9"/>
<rect x="40.4" y="125.29" width="2.0" height="2.9" fill="#3aa637"/>
<rect x="45.1" y="125.29" width="1.1" height="2.9" fill="#f0a212"/>
<rect x="53.2" y="125.29" width="1.4" height="2.9" fill="#3aa637"/>
<rect x="58.0" y="125.29" width="1.4" height="2.9" fill="#3aa637"/>
<rect x="61.6" y="125.29" width="1.4" height="2.9" fill="#3aa637"/>
<rect x="67.2" y="125.29" width="1.6" height="2.9" fill="#c4b636"/>
<text x="25.7" y="128.19" font-size="4.2" text-anchor="end" fill="#2a2a2a" stroke="#2a2a2a" stroke-width="0.13">chr21</text>
<rect x="28.0" y="130.38" width="47.8" height="2.9" rx="1.2" fill="#c9c9c9"/>
<rect x="38.8" y="130.38" width="1.6" height="2.9" fill="#c4b636"/>
<rect x="39.1" y="130.38" width="2.0" height="2.9" fill="#f0a212"/>
<rect x="44.2" y="130.38" width="1.1" height="2.9" fill="#f0a212"/>
<rect x="47.0" y="130.38" width="1.1" height="2.9" fill="#f0a212"/>
<rect x="51.9" y="130.38" width="1.0" height="2.9" fill="#f0a212"/>
<rect x="55.1" y="130.38" width="2.0" height="2.9" fill="#f0a212"/>
<rect x="58.0" y="130.38" width="2.0" height="2.9" fill="#3aa637"/>
<rect x="61.1" y="130.38" width="1.4" height="2.9" fill="#3aa637"/>
<rect x="64.6" y="130.38" width="1.4" height="2.9" fill="#3aa637"/>
<rect x="69.2" y="130.38" width="1.6" height="2.9" fill="#3aa637"/>
<rect x="72.7" y="130.38" width="1.4" height="2.9" fill="#3aa637"/>
<text x="25.7" y="133.28" font-size="4.2" text-anchor="end" fill="#2a2a2a" stroke="#2a2a2a" stroke-width="0.13">chr22</text>
<rect x="28.0" y="135.46" width="146.7" height="2.9" rx="1.2" fill="#c9c9c9"/>
<rect x="31.6" y="135.46" width="1.6" height="2.9" fill="#3aa637"/>
<rect x="35.8" y="135.46" width="2.0" height="2.9" fill="#f0a212"/>
<rect x="40.8" y="135.46" width="1.1" height="2.9" fill="#3aa637"/>
<rect x="50.6" y="135.46" width="2.0" height="2.9" fill="#c4b636"/>
<rect x="56.2" y="135.46" width="1.4" height="2.9" fill="#3aa637"/>
<rect x="63.3" y="135.46" width="1.6" height="2.9" fill="#c4b636"/>
<rect x="68.5" y="135.46" width="1.6" height="2.9" fill="#3aa637"/>
<rect x="75.1" y="135.46" width="1.1" height="2.9" fill="#e3423a"/>
<rect x="85.5" y="135.46" width="1.6" height="2.9" fill="#f0a212"/>
<rect x="90.7" y="135.46" width="1.1" height="2.9" fill="#f0a212"/>
<rect x="97.5" y="135.46" width="1.2" height="2.9" fill="#f0a212"/>
<rect x="104.1" y="135.46" width="1.4" height="2.9" fill="#c4b636"/>
<rect x="120.4" y="135.46" width="1.1" height="2.9" fill="#3aa637"/>
<rect x="128.1" y="135.46" width="2.0" height="2.9" fill="#c4b636"/>
<rect x="132.5" y="135.46" width="1.4" height="2.9" fill="#c4b636"/>
<rect x="140.5" y="135.46" width="2.0" height="2.9" fill="#3aa637"/>
<rect x="147.2" y="135.46" width="1.2" height="2.9" fill="#3aa637"/>
<rect x="170.0" y="135.46" width="1.1" height="2.9" fill="#c4b636"/>
<text x="25.7" y="138.36" font-size="4.2" text-anchor="end" fill="#2a2a2a" stroke="#2a2a2a" stroke-width="0.13">chr X</text>
<rect x="28.0" y="140.55" width="53.8" height="2.9" rx="1.2" fill="#c9c9c9"/>
<rect x="28.4" y="140.55" width="1.0" height="2.9" fill="#3aa637"/>
<rect x="34.1" y="140.55" width="1.2" height="2.9" fill="#3aa637"/>
<rect x="40.0" y="140.55" width="1.1" height="2.9" fill="#3aa637"/>
<rect x="41.8" y="140.55" width="1.0" height="2.9" fill="#3aa637"/>
<rect x="46.9" y="140.55" width="1.0" height="2.9" fill="#3aa637"/>
<text x="25.7" y="143.45" font-size="4.2" text-anchor="end" fill="#2a2a2a" stroke="#2a2a2a" stroke-width="0.13">chr Y</text>
<line x1="28.0" y1="147.6" x2="263.5" y2="147.6" stroke="#c4c4c4" stroke-width="0.5"/>
<line x1="75.0" y1="147.6" x2="75.0" y2="148.9" stroke="#c4c4c4" stroke-width="0.5"/>
<text x="75.0" y="155.5" font-size="4.7" text-anchor="middle" fill="#333" stroke="#333" stroke-width="0.13">50Mbp</text>
<line x1="122.0" y1="147.6" x2="122.0" y2="148.9" stroke="#c4c4c4" stroke-width="0.5"/>
<text x="122.0" y="155.5" font-size="4.7" text-anchor="middle" fill="#333" stroke="#333" stroke-width="0.13">100Mbp</text>
<line x1="169.0" y1="147.6" x2="169.0" y2="148.9" stroke="#c4c4c4" stroke-width="0.5"/>
<text x="169.0" y="155.5" font-size="4.7" text-anchor="middle" fill="#333" stroke="#333" stroke-width="0.13">150Mbp</text>
<line x1="216.0" y1="147.6" x2="216.0" y2="148.9" stroke="#c4c4c4" stroke-width="0.5"/>
<text x="216.0" y="155.5" font-size="4.7" text-anchor="middle" fill="#333" stroke="#333" stroke-width="0.13">200Mbp</text>
<rect x="219.0" y="88.60" width="2" height="4.15" fill="#3aa637"/>
<text x="222.8" y="92.10" font-size="3.9" fill="#2a2a2a" stroke="#2a2a2a" stroke-width="0.13">&lt;=100</text>
<rect x="219.0" y="92.75" width="2" height="4.15" fill="#c4b636"/>
<text x="222.8" y="96.25" font-size="3.9" fill="#2a2a2a" stroke="#2a2a2a" stroke-width="0.13">100-500</text>
<rect x="219.0" y="96.90" width="2" height="4.15" fill="#f0a212"/>
<text x="222.8" y="100.40" font-size="3.9" fill="#2a2a2a" stroke="#2a2a2a" stroke-width="0.13">500-2000</text>
<rect x="219.0" y="101.05" width="2" height="4.15" fill="#e3423a"/>
<text x="222.8" y="104.55" font-size="3.9" fill="#2a2a2a" stroke="#2a2a2a" stroke-width="0.13">&gt;2000</text>
</g>
<rect x="12.8" y="83.5" width="36.6" height="15.6" rx="1.5" fill="none" stroke="#d0151d" stroke-width="1.1" stroke-dasharray="3.8 3.1"/>
<rect x="50.0" y="137.9" width="34.5" height="7.6" rx="1.5" fill="none" stroke="#d0151d" stroke-width="1.1" stroke-dasharray="3.8 3.1"/>
<g id="panelB">
<text x="281.3" y="14.4" font-size="14.1" fill="#000" stroke="#000" stroke-width="0.3">B</text>
<rect x="301.6" y="23.55" width="233.5" height="2.9" rx="1.2" fill="#c9c9c9"/>
<rect x="305.6" y="23.55" width="1.0" height="2.9" fill="#e3423a"/>
<rect x="308.2" y="23.55" width="2.0" height="2.9" fill="#3aa637"/>
<rect x="313.7" y="23.55" width="1.1" height="2.9" fill="#f0a212"/>
<rect x="324.6" y="23.55" width="1.4" height="2.9" fill="#c4b636"/>
<rect x="335.8" y="23.55" width="2.0" height="2.9" fill="#c4b636"/>
<rect x="341.8" y="23.55" width="1.2" height="2.9" fill="#3aa637"/>
<rect x="350.4" y="23.55" width="1.1" height="2.9" fill="#3aa637"/>
<rect x="360.1" y="23.55" width="1.4" height="2.9" fill="#c4b636"/>
<rect x="367.1" y="23.55" width="2.0" height="2.9" fill="#3aa637"/>
<rect x="373.0" y="23.55" width="2.0" height="2.9" fill="#3aa637"/>
<rect x="381.9" y="23.55" width="1.4" height="2.9" fill="#3aa637"/>
<rect x="389.0" y="23.55" width="1.4" height="2.9" fill="#e3423a"/>
<rect x="392.7" y="23.55" width="1.4" height="2.9" fill="#f0a212"/>
<rect x="398.5" y="23.55" width="1.6" height="2.9" fill="#f0a212"/>
<rect x="404.0" y="23.55" width="1.1" height="2.9" fill="#c4b636"/>
<rect x="409.5" y="23.55" width="1.2" height="2.9" fill="#f0a212"/>
<rect x="416.7" y="23.55" width="1.0" height="2.9" fill="#3aa637"/>
<rect x="425.9" y="23.55" width="1.0" height="2.9" fill="#3aa637"/>
<rect x="427.1" y="23.55" width="1.4" height="2.9" fill="#c4b636"/>
<rect x="437.2" y="23.55" width="1.0" height="2.9" fill="#3aa637"/>
<rect x="443.5" y="23.55" width="1.6" height="2.9" fill="#f0a212"/>
<rect x="451.3" y="23.55" width="2.0" height="2.9" fill="#3aa637"/>
<rect x="459.1" y="23.55" width="1.2" height="2.9" fill="#3aa637"/>
<rect x="463.1" y="23.55" width="1.2" height="2.9" fill="#c4b636"/>
<rect x="471.3" y="23.55" width="1.2" height="2.9" fill="#e3423a"/>
<rect x="475.2" y="23.55" width="1.0" height="2.9" fill="#3aa637"/>
<rect x="481.7" y="23.55" width="2.0" height="2.9" fill="#3aa637"/>
<rect x="487.8" y="23.55" width="1.6" height="2.9" fill="#f0a212"/>
<rect x="494.1" y="23.55" width="1.6" height="2.9" fill="#c4b636"/>
<rect x="500.9" y="23.55" width="1.0" height="2.9" fill="#3aa637"/>
<rect x="508.4" y="23.55" width="1.2" height="2.9" fill="#3aa637"/>
<rect x="512.5" y="23.55" width="1.1" height="2.9" fill="#e3423a"/>
<rect x="520.2" y="23.55" width="1.0" height="2.9" fill="#f0a212"/>
<rect x="528.0" y="23.55" width="1.0" height="2.9" fill="#f0a212"/>
<text x="299.3" y="26.45" font-size="4.2" text-anchor="end" fill="#2a2a2a" stroke="#2a2a2a" stroke-width="0.13">chr1</text>
<rect x="301.6" y="28.64" width="228.1" height="2.9" rx="1.2" fill="#c9c9c9"/>
<rect x="302.6" y="28.64" width="1.0" height="2.9" fill="#e3423a"/>
<rect x="305.4" y="28.64" width="1.0" height="2.9" fill="#c4b636"/>
<rect x="314.0" y="28.64" width="1.2" height="2.9" fill="#f0a212"/>
<rect x="319.8" y="28.64" width="1.6" height="2.9" fill="#f0a212"/>
<rect x="322.3" y="28.64" width="1.1" height="2.9" fill="#3aa637"/>
<rect x="325.8" y="28.64" width="1.0" height="2.9" fill="#3aa637"/>
<rect x="328.7" y="28.64" width="1.1" height="2.9" fill="#3aa637"/>
<rect x="334.1" y="28.64" width="2.0" height="2.9" fill="#c4b636"/>
<rect x="336.7" y="28.64" width="1.6" height="2.9" fill="#e3423a"/>
<rect x="342.4" y="28.64" width="1.6" height="2.9" fill="#c4b636"/>
<rect x="347.1" y="28.64" width="1.1" height="2.9" fill="#3aa637"/>
<rect x="351.1" y="28.64" width="1.6" height="2.9" fill="#f0a212"/>
<rect x="358.0" y="28.64" width="1.6" height="2.9" fill="#f0a212"/>
<rect x="361.6" y="28.64" width="1.1" height="2.9" fill="#c4b636"/>
<rect x="364.1" y="28.64" width="1.2" height="2.9" fill="#c4b636"/>
<rect x="368.9" y="28.64" width="1.0" height="2.9" fill="#f0a212"/>
<rect x="373.8" y="28.64" width="2.0" height="2.9" fill="#c4b636"/>
<rect x="376.4" y="28.64" width="1.1" height="2.9" fill="#c4b636"/>
<rect x="381.8" y="28.64" width="1.4" height="2.9" fill="#3aa637"/>
<rect x="384.2" y="28.64" width="1.1" height="2.9" fill="#3aa637"/>
<rect x="387.3" y="28.64" width="1.4" height="2.9" fill="#f0a212"/>
<rect x="392.3" y="28.64" width="1.0" height="2.9" fill="#e3423a"/>
<rect x="399.8" y="28.64" width="1.1" height="2.9" fill="#c4b636"/>
<rect x="401.9" y="28.64" width="1.4" height="2.9" fill="#3aa637"/>
<rect x="404.6" y="28.64" width="1.1" height="2.9" fill="#f0a212"/>
<rect x="407.4" y="28.64" width="1.1" height="2.9" fill="#f0a212"/>
<rect x="411.8" y="28.64" width="1.6" height="2.9" fill="#3aa637"/>
<rect x="419.1" y="28.64" width="1.0" height="2.9" fill="#f0a212"/>
<rect x="421.7" y="28.64" width="2.0" height="2.9" fill="#c4b636"/>
<rect x="425.8" y="28.64" width="1.0" height="2.9" fill="#c4b636"/>
<rect x="431.4" y="28.64" width="2.0" height="2.9" fill="#f0a212"/>
<rect x="434.3" y="28.64" width="1.0" height="2.9" fill="#3aa637"/>
<rect x="439.3" y="28.64" width="1.0" height="2.9" fill="#3aa637"/>
<rect x="444.4" y="28.64" width="1.2" height="2.9" fill="#3aa637"/>
<rect x="448.2" y="28.64" width="1.1" height="2.9" fill="#3aa637"/>
<rect x="450.9" y="28.64" width="2.0" height="2.9" fill="#f0a212"/>
<rect x="456.9" y="28.64" width="1.0" height="2.9" fill="#3aa637"/>
<rect x="459.3" y="28.64" width="1.4" height="2.9" fill="#c4b636"/>
<rect x="464.8" y="28.64" width="1.0" height="2.9" fill="#c4b636"/>
<rect x="467.3" y="28.64" width="2.0" height="2.9" fill="#3aa637"/>
<rect x="472.8" y="28.64" width="2.0" height="2.9" fill="#3aa637"/>
<rect x="474.1" y="28.64" width="1.1" height="2.9" fill="#c4b636"/>
<rect x="479.9" y="28.64" width="2.0" height="2.9" fill="#f0a212"/>
<rect x="483.8" y="28.64" width="1.0" height="2.9" fill="#e3423a"/>
<rect x="487.2" y="28.64" width="1.2" height="2.9" fill="#3aa637"/>
<rect x="491.1" y="28.64" width="1.0" height="2.9" fill="#f0a212"/>
<rect x="501.2" y="28.64" width="2.0" height="2.9" fill="#c4b636"/>
<rect x="505.7" y="28.64" width="2.0" height="2.9" fill="#c4b636"/>
<rect x="510.6" y="28.64" width="1.2" height="2.9" fill="#c4b636"/>
<rect x="514.7" y="28.64" width="2.0" height="2.9" fill="#e3423a"/>
<rect x="527.3" y="28.64" width="2.0" height="2.9" fill="#e3423a"/>
<text x="299.3" y="31.54" font-size="4.2" text-anchor="end" fill="#2a2a2a" stroke="#2a2a2a" stroke-width="0.13">chr2</text>
<rect x="301.6" y="33.72" width="189.0" height="2.9" rx="1.2" fill="#c9c9c9"/>
<rect x="302.8" y="33.72" width="1.6" height="2.9" fill="#3aa637"/>
<rect x="306.8" y="33.72" width="1.4" height="2.9" fill="#c4b636"/>
<rect x="311.6" y="33.72" width="1.0" height="2.9" fill="#c4b636"/>
<rect x="314.0" y="33.72" width="1.1" height="2.9" fill="#f0a212"/>
<rect x="316.1" y="33.72" width="1.6" height="2.9" fill="#3aa637"/>
<rect x="318.7" y="33.72" width="1.2" height="2.9" fill="#f0a212"/>
<rect x="321.3" y="33.72" width="1.6" height="2.9" fill="#c4b636"/>
<rect x="327.0" y="33.72" width="2.0" height="2.9" fill="#f0a212"/>
<rect x="330.1" y="33.72" width="1.6" height="2.9" fill="#c4b636"/>
<rect x="336.5" y="33.72" width="1.1" height="2.9" fill="#c4b636"/>
<rect x="337.9" y="33.72" width="1.0" height="2.9" fill="#f0a212"/>
<rect x="341.6" y="33.72" width="1.2" height="2.9" fill="#3aa637"/>
<rect x="345.3" y="33.72" width="2.0" height="2.9" fill="#c4b636"/>
<rect x="349.5" y="33.72" width="2.0" height="2.9" fill="#c4b636"/>
<rect x="351.4" y="33.72" width="1.6" height="2.9" fill="#e3423a"/>
<rect x="355.1" y="33.72" width="1.2" height="2.9" fill="#c4b636"/>
<rect x="357.7" y="33.72" width="1.1" height="2.9" fill="#c4b636"/>
<rect x="363.6" y="33.72" width="2.0" height="2.9" fill="#3aa637"/>
<rect x="368.2" y="33.72" width="1.0" height="2.9" fill="#c4b636"/>
<rect x="370.9" y="33.72" width="1.2" height="2.9" fill="#3aa637"/>
<rect x="374.3" y="33.72" width="1.6" height="2.9" fill="#3aa637"/>
<rect x="377.4" y="33.72" width="1.4" height="2.9" fill="#3aa637"/>
<rect x="382.8" y="33.72" width="1.1" height="2.9" fill="#c4b636"/>
<rect x="386.1" y="33.72" width="1.6" height="2.9" fill="#f0a212"/>
<rect x="391.1" y="33.72" width="1.1" height="2.9" fill="#3aa637"/>
<rect x="399.1" y="33.72" width="1.0" height="2.9" fill="#3aa637"/>
<rect x="404.4" y="33.72" width="1.4" height="2.9" fill="#f0a212"/>
<rect x="408.0" y="33.72" width="1.0" height="2.9" fill="#f0a212"/>
<rect x="409.7" y="33.72" width="1.0" height="2.9" fill="#f0a212"/>
<rect x="414.6" y="33.72" width="1.0" height="2.9" fill="#3aa637"/>
<rect x="421.5" y="33.72" width="1.1" height="2.9" fill="#f0a212"/>
<rect x="425.4" y="33.72" width="1.1" height="2.9" fill="#3aa637"/>
<rect x="427.8" y="33.72" width="1.4" height="2.9" fill="#f0a212"/>
<rect x="435.5" y="33.72" width="2.0" height="2.9" fill="#3aa637"/>
<rect x="439.8" y="33.72" width="1.6" height="2.9" fill="#e3423a"/>
<rect x="444.6" y="33.72" width="1.1" height="2.9" fill="#3aa637"/>
<rect x="448.5" y="33.72" width="1.1" height="2.9" fill="#3aa637"/>
<rect x="456.7" y="33.72" width="1.6" height="2.9" fill="#c4b636"/>
<rect x="458.0" y="33.72" width="1.2" height="2.9" fill="#3aa637"/>
<rect x="461.3" y="33.72" width="1.4" height="2.9" fill="#c4b636"/>
<rect x="471.1" y="33.72" width="2.0" height="2.9" fill="#3aa637"/>
<rect x="472.0" y="33.72" width="1.0" height="2.9" fill="#3aa637"/>
<rect x="474.3" y="33.72" width="1.6" height="2.9" fill="#3aa637"/>
<rect x="477.2" y="33.72" width="1.6" height="2.9" fill="#3aa637"/>
<rect x="483.0" y="33.72" width="1.2" height="2.9" fill="#3aa637"/>
<rect x="485.4" y="33.72" width="1.0" height="2.9" fill="#3aa637"/>
<text x="299.3" y="36.62" font-size="4.2" text-anchor="end" fill="#2a2a2a" stroke="#2a2a2a" stroke-width="0.13">chr3</text>
<rect x="301.6" y="38.81" width="182.0" height="2.9" rx="1.2" fill="#c9c9c9"/>
<rect x="304.0" y="38.81" width="1.0" height="2.9" fill="#e3423a"/>
<rect x="307.6" y="38.81" width="2.0" height="2.9" fill="#3aa637"/>
<rect x="312.8" y="38.81" width="2.0" height="2.9" fill="#c4b636"/>
<rect x="316.1" y="38.81" width="1.6" height="2.9" fill="#3aa637"/>
<rect x="321.6" y="38.81" width="2.0" height="2.9" fill="#c4b636"/>
<rect x="328.9" y="38.81" width="1.2" height="2.9" fill="#c4b636"/>
<rect x="334.0" y="38.81" width="2.0" height="2.9" fill="#e3423a"/>
<rect x="335.7" y="38.81" width="1.6" height="2.9" fill="#f0a212"/>
<rect x="345.9" y="38.81" width="1.6" height="2.9" fill="#3aa637"/>
<rect x="350.2" y="38.81" width="1.1" height="2.9" fill="#c4b636"/>
<rect x="355.9" y="38.81" width="1.2" height="2.9" fill="#c4b636"/>
<rect x="360.4" y="38.81" width="1.6" height="2.9" fill="#3aa637"/>
<rect x="363.7" y="38.81" width="1.2" height="2.9" fill="#f0a212"/>
<rect x="369.3" y="38.81" width="1.1" height="2.9" fill="#3aa637"/>
<rect x="373.6" y="38.81" width="1.2" height="2.9" fill="#c4b636"/>
<rect x="380.0" y="38.81" width="1.0" height="2.9" fill="#c4b636"/>
<rect x="383.8" y="38.81" width="1.4" height="2.9" fill="#3aa637"/>
<rect x="389.2" y="38.81" width="2.0" height="2.9" fill="#3aa637"/>
<rect x="393.4" y="38.81" width="1.1" height="2.9" fill="#c4b636"/>
<rect x="396.5" y="38.81" width="2.0" height="2.9" fill="#3aa637"/>
<rect x="400.8" y="38.81" width="1.6" height="2.9" fill="#3aa637"/>
<rect x="402.2" y="38.81" width="2.0" height="2.9" fill="#c4b636"/>
<rect x="405.9" y="38.81" width="2.0" height="2.9" fill="#c4b636"/>
<rect x="412.3" y="38.81" width="1.1" height="2.9" fill="#c4b636"/>
<rect x="416.1" y="38.81" width="1.4" height="2.9" fill="#f0a212"/>
<rect x="421.3" y="38.81" width="1.2" height="2.9" fill="#c4b636"/>
<rect x="427.6" y="38.81" width="1.4" height="2.9" fill="#f0a212"/>
<rect x="429.9" y="38.81" width="1.2" height="2.9" fill="#c4b636"/>
<rect x="434.7" y="38.81" width="1.0" height="2.9" fill="#3aa637"/>
<rect x="436.0" y="38.81" width="1.6" height="2.9" fill="#f0a212"/>
<rect x="441.5" y="38.81" width="1.4" height="2.9" fill="#3aa637"/>
<rect x="449.7" y="38.81" width="1.1" height="2.9" fill="#f0a212"/>
<rect x="453.5" y="38.81" width="1.1" height="2.9" fill="#3aa637"/>
<rect x="457.2" y="38.81" width="1.0" height="2.9" fill="#3aa637"/>
<rect x="463.4" y="38.81" width="1.2" height="2.9" fill="#3aa637"/>
<rect x="468.7" y="38.81" width="1.0" height="2.9" fill="#3aa637"/>
<rect x="473.5" y="38.81" width="1.4" height="2.9" fill="#3aa637"/>
<rect x="478.1" y="38.81" width="1.4" height="2.9" fill="#3aa637"/>
<text x="299.3" y="41.71" font-size="4.2" text-anchor="end" fill="#2a2a2a" stroke="#2a2a2a" stroke-width="0.13">chr4</text>
<rect x="301.6" y="43.90" width="171.1" height="2.9" rx="1.2" fill="#c9c9c9"/>
<rect x="304.2" y="43.90" width="1.2" height="2.9" fill="#f0a212"/>
<rect x="309.3" y="43.90" width="1.6" height="2.9" fill="#3aa637"/>
<rect x="312.1" y="43.90" width="1.6" height="2.9" fill="#e3423a"/>
<rect x="314.5" y="43.90" width="1.1" height="2.9" fill="#f0a212"/>
<rect x="321.8" y="43.90" width="1.4" height="2.9" fill="#f0a212"/>
<rect x="328.0" y="43.90" width="1.2" height="2.9" fill="#3aa637"/>
<rect x="343.7" y="43.90" width="1.1" height="2.9" fill="#f0a212"/>
<rect x="353.0" y="43.90" width="1.6" height="2.9" fill="#3aa637"/>
<rect x="358.8" y="43.90" width="1.6" height="2.9" fill="#e3423a"/>
<rect x="363.6" y="43.90" width="1.6" height="2.9" fill="#c4b636"/>
<rect x="367.2" y="43.90" width="1.4" height="2.9" fill="#e3423a"/>
<rect x="371.7" y="43.90" width="2.0" height="2.9" fill="#3aa637"/>
<rect x="377.5" y="43.90" width="1.2" height="2.9" fill="#3aa637"/>
<rect x="379.7" y="43.90" width="1.6" height="2.9" fill="#c4b636"/>
<rect x="387.5" y="43.90" width="1.0" height="2.9" fill="#f0a212"/>
<rect x="389.4" y="43.90" width="2.0" height="2.9" fill="#3aa637"/>
<rect x="394.7" y="43.90" width="1.2" height="2.9" fill="#3aa637"/>
<rect x="402.9" y="43.90" width="1.1" height="2.9" fill="#e3423a"/>
<rect x="408.4" y="43.90" width="1.4" height="2.9" fill="#3aa637"/>
<rect x="413.2" y="43.90" width="1.6" height="2.9" fill="#3aa637"/>
<rect x="416.8" y="43.90" width="1.1" height="2.9" fill="#3aa637"/>
<rect x="420.7" y="43.90" width="1.0" height="2.9" fill="#f0a212"/>
<rect x="427.5" y="43.90" width="1.0" height="2.9" fill="#3aa637"/>
<rect x="430.4" y="43.90" width="1.0" height="2.9" fill="#c4b636"/>
<rect x="435.5" y="43.90" width="2.0" height="2.9" fill="#f0a212"/>
<rect x="438.2" y="43.90" width="1.6" height="2.9" fill="#3aa637"/>
<rect x="443.1" y="43.90" width="2.0" height="2.9" fill="#3aa637"/>
<rect x="449.0" y="43.90" width="1.2" height="2.9" fill="#c4b636"/>
<rect x="456.8" y="43.90" width="1.6" height="2.9" fill="#e3423a"/>
<rect x="463.9" y="43.90" width="1.2" height="2.9" fill="#3aa637"/>
<rect x="469.9" y="43.90" width="2.0" height="2.9" fill="#f0a212"/>
<text x="299.3" y="46.80" font-size="4.2" text-anchor="end" fill="#2a2a2a" stroke="#2a2a2a" stroke-width="0.13">chr5</text>
<rect x="301.6" y="48.98" width="161.8" height="2.9" rx="1.2" fill="#c9c9c9"/>
<rect x="305.6" y="48.98" width="1.1" height="2.9" fill="#3aa637"/>
<rect x="308.1" y="48.98" width="1.6" height="2.9" fill="#f0a212"/>
<rect x="311.4" y="48.98" width="1.1" height="2.9" fill="#3aa637"/>
<rect x="317.6" y="48.98" width="2.0" height="2.9" fill="#3aa637"/>
<rect x="319.5" y="48.98" width="2.0" height="2.9" fill="#3aa637"/>
<rect x="324.9" y="48.98" width="1.1" height="2.9" fill="#3aa637"/>
<rect x="328.3" y="48.98" width="1.6" height="2.9" fill="#c4b636"/>
<rect x="334.4" y="48.98" width="2.0" height="2.9" fill="#f0a212"/>
<rect x="340.1" y="48.98" width="1.2" height="2.9" fill="#c4b636"/>
<rect x="345.1" y="48.98" width="1.0" height="2.9" fill="#3aa637"/>
<rect x="349.5" y="48.98" width="2.0" height="2.9" fill="#3aa637"/>
<rect x="353.3" y="48.98" width="1.2" height="2.9" fill="#3aa637"/>
<rect x="356.5" y="48.98" width="1.4" height="2.9" fill="#f0a212"/>
<rect x="362.9" y="48.98" width="1.2" height="2.9" fill="#3aa637"/>
<rect x="367.1" y="48.98" width="1.6" height="2.9" fill="#c4b636"/>
<rect x="373.1" y="48.98" width="2.0" height="2.9" fill="#c4b636"/>
<rect x="378.7" y="48.98" width="1.4" height="2.9" fill="#f0a212"/>
<rect x="381.4" y="48.98" width="1.4" height="2.9" fill="#f0a212"/>
<rect x="385.8" y="48.98" width="1.1" height="2.9" fill="#c4b636"/>
<rect x="390.2" y="48.98" width="1.4" height="2.9" fill="#f0a212"/>
<rect x="395.1" y="48.98" width="1.2" height="2.9" fill="#f0a212"/>
<rect x="398.2" y="48.98" width="1.2" height="2.9" fill="#f0a212"/>
<rect x="404.7" y="48.98" width="1.2" height="2.9" fill="#f0a212"/>
<rect x="411.1" y="48.98" width="2.0" height="2.9" fill="#c4b636"/>
<rect x="416.0" y="48.98" width="1.2" height="2.9" fill="#c4b636"/>
<rect x="420.0" y="48.98" width="1.4" height="2.9" fill="#c4b636"/>
<rect x="426.1" y="48.98" width="1.4" height="2.9" fill="#3aa637"/>
<rect x="429.3" y="48.98" width="1.2" height="2.9" fill="#3aa637"/>
<rect x="435.4" y="48.98" width="1.0" height="2.9" fill="#3aa637"/>
<rect x="439.5" y="48.98" width="1.0" height="2.9" fill="#f0a212"/>
<rect x="444.2" y="48.98" width="2.0" height="2.9" fill="#c4b636"/>
<rect x="446.2" y="48.98" width="1.0" height="2.9" fill="#c4b636"/>
<rect x="451.2" y="48.98" width="1.0" height="2.9" fill="#f0a212"/>
<rect x="457.7" y="48.98" width="1.2" height="2.9" fill="#f0a212"/>
<rect x="461.4" y="48.98" width="1.4" height="2.9" fill="#c4b636"/>
<text x="299.3" y="51.89" font-size="4.2" text-anchor="end" fill="#2a2a2a" stroke="#2a2a2a" stroke-width="0.13">chr6</text>
<rect x="301.6" y="54.07" width="150.9" height="2.9" rx="1.2" fill="#c9c9c9"/>
<rect x="306.4" y="54.07" width="1.0" height="2.9" fill="#f0a212"/>
<rect x="313.7" y="54.07" width="1.0" height="2.9" fill="#f0a212"/>
<rect x="318.7" y="54.07" width="1.0" height="2.9" fill="#3aa637"/>
<rect x="319.9" y="54.07" width="1.4" height="2.9" fill="#3aa637"/>
<rect x="322.3" y="54.07" width="1.2" height="2.9" fill="#3aa637"/>
<rect x="324.7" y="54.07" width="2.0" height="2.9" fill="#c4b636"/>
<rect x="331.1" y="54.07" width="1.4" height="2.9" fill="#c4b636"/>
<rect x="336.4" y="54.07" width="1.6" height="2.9" fill="#3aa637"/>
<rect x="340.4" y="54.07" width="1.6" height="2.9" fill="#f0a212"/>
<rect x="343.6" y="54.07" width="1.1" height="2.9" fill="#3aa637"/>
<rect x="349.9" y="54.07" width="1.4" height="2.9" fill="#3aa637"/>
<rect x="351.9" y="54.07" width="1.1" height="2.9" fill="#f0a212"/>
<rect x="356.6" y="54.07" width="1.0" height="2.9" fill="#f0a212"/>
<rect x="363.0" y="54.07" width="1.2" height="2.9" fill="#3aa637"/>
<rect x="363.7" y="54.07" width="1.1" height="2.9" fill="#3aa637"/>
<rect x="369.0" y="54.07" width="1.2" height="2.9" fill="#3aa637"/>
<rect x="374.3" y="54.07" width="1.1" height="2.9" fill="#c4b636"/>
<rect x="376.9" y="54.07" width="1.0" height="2.9" fill="#c4b636"/>
<rect x="383.1" y="54.07" width="1.6" height="2.9" fill="#3aa637"/>
<rect x="387.4" y="54.07" width="2.0" height="2.9" fill="#c4b636"/>
<rect x="396.8" y="54.07" width="1.0" height="2.9" fill="#e3423a"/>
<rect x="401.2" y="54.07" width="1.4" height="2.9" fill="#c4b636"/>
<rect x="406.3" y="54.07" width="1.4" height="2.9" fill="#c4b636"/>
<rect x="408.4" y="54.07" width="1.1" height="2.9" fill="#c4b636"/>
<rect x="413.2" y="54.07" width="2.0" height="2.9" fill="#3aa637"/>
<rect x="418.3" y="54.07" width="1.2" height="2.9" fill="#3aa637"/>
<rect x="422.7" y="54.07" width="1.2" height="2.9" fill="#3aa637"/>
<rect x="426.8" y="54.07" width="1.4" height="2.9" fill="#3aa637"/>
<rect x="429.7" y="54.07" width="1.1" height="2.9" fill="#f0a212"/>
<rect x="436.6" y="54.07" width="1.0" height="2.9" fill="#3aa637"/>
<rect x="438.1" y="54.07" width="1.6" height="2.9" fill="#3aa637"/>
<rect x="441.6" y="54.07" width="1.6" height="2.9" fill="#f0a212"/>
<rect x="447.4" y="54.07" width="1.6" height="2.9" fill="#3aa637"/>
<rect x="449.3" y="54.07" width="1.6" height="2.9" fill="#3aa637"/>
<text x="299.3" y="56.97" font-size="4.2" text-anchor="end" fill="#2a2a2a" stroke="#2a2a2a" stroke-width="0.13">chr7</text>
<rect x="301.6" y="59.16" width="137.5" height="2.9" rx="1.2" fill="#c9c9c9"/>
<rect x="306.7" y="59.16" width="1.2" height="2.9" fill="#c4b636"/>
<rect x="308.3" y="59.16" width="1.2" height="2.9" fill="#f0a212"/>
<rect x="316.0" y="59.16" width="1.6" height="2.9" fill="#c4b636"/>
<rect x="318.6" y="59.16" width="1.0" height="2.9" fill="#c4b636"/>
<rect x="324.6" y="59.16" width="1.4" height="2.9" fill="#f0a212"/>
<rect x="330.8" y="59.16" width="1.6" height="2.9" fill="#c4b636"/>
<rect x="336.2" y="59.16" width="1.2" height="2.9" fill="#c4b636"/>
<rect x="339.0" y="59.16" width="1.1" height="2.9" fill="#c4b636"/>
<rect x="342.4" y="59.16" width="1.2" height="2.9" fill="#3aa637"/>
<rect x="346.7" y="59.16" width="2.0" height="2.9" fill="#f0a212"/>
<rect x="355.7" y="59.16" width="1.0" height="2.9" fill="#c4b636"/>
<rect x="360.9" y="59.16" width="1.2" height="2.9" fill="#3aa637"/>
<rect x="366.1" y="59.16" width="1.2" height="2.9" fill="#3aa637"/>
<rect x="373.2" y="59.16" width="1.4" height="2.9" fill="#c4b636"/>
<rect x="377.5" y="59.16" width="1.2" height="2.9" fill="#f0a212"/>
<rect x="380.8" y="59.16" width="1.4" height="2.9" fill="#f0a212"/>
<rect x="389.4" y="59.16" width="1.6" height="2.9" fill="#3aa637"/>
<rect x="396.4" y="59.16" width="1.1" height="2.9" fill="#f0a212"/>
<rect x="399.3" y="59.16" width="1.0" height="2.9" fill="#f0a212"/>
<rect x="406.3" y="59.16" width="2.0" height="2.9" fill="#3aa637"/>
<rect x="417.2" y="59.16" width="1.2" height="2.9" fill="#f0a212"/>
<rect x="424.6" y="59.16" width="2.0" height="2.9" fill="#3aa637"/>
<rect x="428.5" y="59.16" width="1.0" height="2.9" fill="#c4b636"/>
<rect x="433.8" y="59.16" width="1.2" height="2.9" fill="#3aa637"/>
<text x="299.3" y="62.06" font-size="4.2" text-anchor="end" fill="#2a2a2a" stroke="#2a2a2a" stroke-width="0.13">chr8</text>
<rect x="301.6" y="64.25" width="141.6" height="2.9" rx="1.2" fill="#c9c9c9"/>
<rect x="304.1" y="64.25" width="1.4" height="2.9" fill="#f0a212"/>
<rect x="308.0" y="64.25" width="1.4" height="2.9" fill="#c4b636"/>
<rect x="312.9" y="64.25" width="1.0" height="2.9" fill="#f0a212"/>
<rect x="317.3" y="64.25" width="1.0" height="2.9" fill="#c4b636"/>
<rect x="319.8" y="64.25" width="1.4" height="2.9" fill="#3aa637"/>
<rect x="326.4" y="64.25" width="1.0" height="2.9" fill="#e3423a"/>
<rect x="328.1" y="64.25" width="2.0" height="2.9" fill="#f0a212"/>
<rect x="332.2" y="64.25" width="1.6" height="2.9" fill="#c4b636"/>
<rect x="333.7" y="64.25" width="1.4" height="2.9" fill="#f0a212"/>
<rect x="336.8" y="64.25" width="1.2" height="2.9" fill="#3aa637"/>
<rect x="340.9" y="64.25" width="1.4" height="2.9" fill="#3aa637"/>
<rect x="344.8" y="64.25" width="1.2" height="2.9" fill="#3aa637"/>
<rect x="346.2" y="64.25" width="2.0" height="2.9" fill="#f0a212"/>
<rect x="351.5" y="64.25" width="1.4" height="2.9" fill="#c4b636"/>
<rect x="355.7" y="64.25" width="1.0" height="2.9" fill="#3aa637"/>
<rect x="360.2" y="64.25" width="1.2" height="2.9" fill="#3aa637"/>
<rect x="365.4" y="64.25" width="1.4" height="2.9" fill="#3aa637"/>
<rect x="369.3" y="64.25" width="1.1" height="2.9" fill="#3aa637"/>
<rect x="373.4" y="64.25" width="2.0" height="2.9" fill="#f0a212"/>
<rect x="375.3" y="64.25" width="1.6" height="2.9" fill="#3aa637"/>
<rect x="380.9" y="64.25" width="1.4" height="2.9" fill="#f0a212"/>
<rect x="382.5" y="64.25" width="1.6" height="2.9" fill="#c4b636"/>
<rect x="387.3" y="64.25" width="1.1" height="2.9" fill="#3aa637"/>
<rect x="391.7" y="64.25" width="1.6" height="2.9" fill="#e3423a"/>
<rect x="396.6" y="64.25" width="2.0" height="2.9" fill="#3aa637"/>
<rect x="401.8" y="64.25" width="1.6" height="2.9" fill="#f0a212"/>
<rect x="406.9" y="64.25" width="2.0" height="2.9" fill="#3aa637"/>
<rect x="410.3" y="64.25" width="1.0" height="2.9" fill="#f0a212"/>
<rect x="414.2" y="64.25" width="1.2" height="2.9" fill="#c4b636"/>
<rect x="418.0" y="64.25" width="1.1" height="2.9" fill="#3aa637"/>
<rect x="423.3" y="64.25" width="2.0" height="2.9" fill="#e3423a"/>
<rect x="425.3" y="64.25" width="1.0" height="2.9" fill="#c4b636"/>
<rect x="428.6" y="64.25" width="1.0" height="2.9" fill="#f0a212"/>
<rect x="434.2" y="64.25" width="1.6" height="2.9" fill="#3aa637"/>
<rect x="439.0" y="64.25" width="1.1" height="2.9" fill="#c4b636"/>
<rect x="440.5" y="64.25" width="1.2" height="2.9" fill="#c4b636"/>
<text x="299.3" y="67.15" font-size="4.2" text-anchor="end" fill="#2a2a2a" stroke="#2a2a2a" stroke-width="0.13">chr9</text>
<rect x="301.6" y="69.33" width="126.7" height="2.9" rx="1.2" fill="#c9c9c9"/>
<rect x="304.3" y="69.33" width="2.0" height="2.9" fill="#c4b636"/>
<rect x="308.2" y="69.33" width="1.1" height="2.9" fill="#c4b636"/>
<rect x="312.6" y="69.33" width="1.2" height="2.9" fill="#3aa637"/>
<rect x="318.0" y="69.33" width="1.2" height="2.9" fill="#3aa637"/>
<rect x="330.9" y="69.33" width="1.6" height="2.9" fill="#3aa637"/>
<rect x="344.2" y="69.33" width="1.6" height="2.9" fill="#3aa637"/>
<rect x="346.7" y="69.33" width="1.2" height="2.9" fill="#f0a212"/>
<rect x="351.7" y="69.33" width="1.2" height="2.9" fill="#e3423a"/>
<rect x="356.1" y="69.33" width="1.4" height="2.9" fill="#e3423a"/>
<rect x="360.5" y="69.33" width="1.2" height="2.9" fill="#3aa637"/>
<rect x="366.2" y="69.33" width="1.2" height="2.9" fill="#3aa637"/>
<rect x="371.4" y="69.33" width="1.4" height="2.9" fill="#c4b636"/>
<rect x="375.9" y="69.33" width="1.1" height="2.9" fill="#f0a212"/>
<rect x="384.9" y="69.33" width="1.0" height="2.9" fill="#f0a212"/>
<rect x="392.4" y="69.33" width="2.0" height="2.9" fill="#3aa637"/>
<rect x="397.5" y="69.33" width="2.0" height="2.9" fill="#3aa637"/>
<rect x="404.5" y="69.33" width="1.2" height="2.9" fill="#c4b636"/>
<rect x="407.2" y="69.33" width="1.6" height="2.9" fill="#3aa637"/>
<rect x="414.7" y="69.33" width="1.1" height="2.9" fill="#3aa637"/>
<text x="299.3" y="72.23" font-size="4.2" text-anchor="end" fill="#2a2a2a" stroke="#2a2a2a" stroke-width="0.13">chr10</text>
<rect x="301.6" y="74.42" width="127.0" height="2.9" rx="1.2" fill="#c9c9c9"/>
<rect x="317.8" y="74.42" width="2.0" height="2.9" fill="#c4b636"/>
<rect x="325.7" y="74.42" width="1.2" height="2.9" fill="#c4b636"/>
<rect x="328.8" y="74.42" width="2.0" height="2.9" fill="#f0a212"/>
<rect x="331.6" y="74.42" width="2.0" height="2.9" fill="#c4b636"/>
<rect x="337.5" y="74.42" width="2.0" height="2.9" fill="#3aa637"/>
<rect x="342.0" y="74.42" width="1.0" height="2.9" fill="#f0a212"/>
<rect x="347.9" y="74.42" width="1.0" height="2.9" fill="#f0a212"/>
<rect x="354.3" y="74.42" width="1.4" height="2.9" fill="#3aa637"/>
<rect x="360.6" y="74.42" width="1.0" height="2.9" fill="#f0a212"/>
<rect x="365.7" y="74.42" width="1.4" height="2.9" fill="#f0a212"/>
<rect x="370.5" y="74.42" width="1.4" height="2.9" fill="#f0a212"/>
<rect x="374.5" y="74.42" width="1.0" height="2.9" fill="#f0a212"/>
<rect x="380.6" y="74.42" width="1.1" height="2.9" fill="#c4b636"/>
<rect x="383.7" y="74.42" width="1.2" height="2.9" fill="#f0a212"/>
<rect x="388.4" y="74.42" width="1.4" height="2.9" fill="#e3423a"/>
<rect x="407.3" y="74.42" width="1.6" height="2.9" fill="#c4b636"/>
<rect x="410.9" y="74.42" width="1.2" height="2.9" fill="#f0a212"/>
<rect x="417.3" y="74.42" width="1.4" height="2.9" fill="#c4b636"/>
<rect x="423.3" y="74.42" width="1.4" height="2.9" fill="#c4b636"/>
<text x="299.3" y="77.32" font-size="4.2" text-anchor="end" fill="#2a2a2a" stroke="#2a2a2a" stroke-width="0.13">chr11</text>
<rect x="301.6" y="79.51" width="125.3" height="2.9" rx="1.2" fill="#c9c9c9"/>
<rect x="305.5" y="79.51" width="1.4" height="2.9" fill="#c4b636"/>
<rect x="308.3" y="79.51" width="1.1" height="2.9" fill="#f0a212"/>
<rect x="317.5" y="79.51" width="1.6" height="2.9" fill="#c4b636"/>
<rect x="324.9" y="79.51" width="2.0" height="2.9" fill="#3aa637"/>
<rect x="328.8" y="79.51" width="1.6" height="2.9" fill="#c4b636"/>
<rect x="333.4" y="79.51" width="1.0" height="2.9" fill="#3aa637"/>
<rect x="339.4" y="79.51" width="1.2" height="2.9" fill="#c4b636"/>
<rect x="345.0" y="79.51" width="1.4" height="2.9" fill="#3aa637"/>
<rect x="347.2" y="79.51" width="2.0" height="2.9" fill="#3aa637"/>
<rect x="352.6" y="79.51" width="1.2" height="2.9" fill="#f0a212"/>
<rect x="357.4" y="79.51" width="1.0" height="2.9" fill="#e3423a"/>
<rect x="363.3" y="79.51" width="1.0" height="2.9" fill="#f0a212"/>
<rect x="370.4" y="79.51" width="1.6" height="2.9" fill="#f0a212"/>
<rect x="377.8" y="79.51" width="1.0" height="2.9" fill="#f0a212"/>
<rect x="384.5" y="79.51" width="2.0" height="2.9" fill="#3aa637"/>
<rect x="389.7" y="79.51" width="1.0" height="2.9" fill="#f0a212"/>
<rect x="394.3" y="79.51" width="1.6" height="2.9" fill="#c4b636"/>
<rect x="399.2" y="79.51" width="1.6" height="2.9" fill="#3aa637"/>
<rect x="412.3" y="79.51" width="1.4" height="2.9" fill="#f0a212"/>
<rect x="418.8" y="79.51" width="1.6" height="2.9" fill="#3aa637"/>
<rect x="422.1" y="79.51" width="1.1" height="2.9" fill="#f0a212"/>
<text x="299.3" y="82.41" font-size="4.2" text-anchor="end" fill="#2a2a2a" stroke="#2a2a2a" stroke-width="0.13">chr12</text>
<rect x="301.6" y="84.59" width="106.8" height="2.9" rx="1.2" fill="#c9c9c9"/>
<rect x="304.1" y="84.59" width="1.6" height="2.9" fill="#c4b636"/>
<rect x="310.4" y="84.59" width="1.6" height="2.9" fill="#3aa637"/>
<rect x="315.9" y="84.59" width="1.6" height="2.9" fill="#3aa637"/>
<rect x="320.0" y="84.59" width="2.0" height="2.9" fill="#f0a212"/>
<rect x="326.0" y="84.59" width="1.0" height="2.9" fill="#3aa637"/>
<rect x="330.4" y="84.59" width="2.0" height="2.9" fill="#3aa637"/>
<rect x="334.9" y="84.59" width="2.0" height="2.9" fill="#f0a212"/>
<rect x="339.9" y="84.59" width="2.0" height="2.9" fill="#c4b636"/>
<rect x="344.6" y="84.59" width="1.4" height="2.9" fill="#3aa637"/>
<rect x="347.3" y="84.59" width="1.0" height="2.9" fill="#f0a212"/>
<rect x="353.9" y="84.59" width="1.0" height="2.9" fill="#3aa637"/>
<rect x="367.9" y="84.59" width="2.0" height="2.9" fill="#3aa637"/>
<rect x="377.7" y="84.59" width="2.0" height="2.9" fill="#3aa637"/>
<rect x="379.1" y="84.59" width="2.0" height="2.9" fill="#3aa637"/>
<rect x="385.6" y="84.59" width="1.0" height="2.9" fill="#3aa637"/>
<rect x="393.8" y="84.59" width="1.2" height="2.9" fill="#3aa637"/>
<rect x="400.2" y="84.59" width="1.1" height="2.9" fill="#3aa637"/>
<text x="299.3" y="87.49" font-size="4.2" text-anchor="end" fill="#2a2a2a" stroke="#2a2a2a" stroke-width="0.13">chr13</text>
<rect x="301.6" y="89.68" width="95.1" height="2.9" rx="1.2" fill="#c9c9c9"/>
<rect x="304.4" y="89.68" width="2.0" height="2.9" fill="#3aa637"/>
<rect x="310.0" y="89.68" width="1.2" height="2.9" fill="#3aa637"/>
<rect x="312.4" y="89.68" width="1.1" height="2.9" fill="#3aa637"/>
<rect x="327.4" y="89.68" width="1.1" height="2.9" fill="#3aa637"/>
<rect x="331.2" y="89.68" width="1.4" height="2.9" fill="#3aa637"/>
<rect x="341.1" y="89.68" width="1.6" height="2.9" fill="#3aa637"/>
<rect x="352.8" y="89.68" width="1.6" height="2.9" fill="#f0a212"/>
<rect x="358.3" y="89.68" width="2.0" height="2.9" fill="#c4b636"/>
<rect x="365.6" y="89.68" width="1.2" height="2.9" fill="#3aa637"/>
<rect x="377.9" y="89.68" width="1.4" height="2.9" fill="#c4b636"/>
<rect x="386.0" y="89.68" width="1.6" height="2.9" fill="#3aa637"/>
<rect x="393.6" y="89.68" width="1.0" height="2.9" fill="#3aa637"/>
<text x="299.3" y="92.58" font-size="4.2" text-anchor="end" fill="#2a2a2a" stroke="#2a2a2a" stroke-width="0.13">chr14</text>
<rect x="301.6" y="94.77" width="93.8" height="2.9" rx="1.2" fill="#c9c9c9"/>
<rect x="302.3" y="94.77" width="1.1" height="2.9" fill="#3aa637"/>
<rect x="310.4" y="94.77" width="1.6" height="2.9" fill="#c4b636"/>
<rect x="321.0" y="94.77" width="1.0" height="2.9" fill="#3aa637"/>
<rect x="330.8" y="94.77" width="1.2" height="2.9" fill="#f0a212"/>
<rect x="341.1" y="94.77" width="1.1" height="2.9" fill="#3aa637"/>
<rect x="350.1" y="94.77" width="2.0" height="2.9" fill="#e3423a"/>
<rect x="365.2" y="94.77" width="1.4" height="2.9" fill="#e3423a"/>
<rect x="373.7" y="94.77" width="1.2" height="2.9" fill="#3aa637"/>
<rect x="380.6" y="94.77" width="1.1" height="2.9" fill="#e3423a"/>
<rect x="387.4" y="94.77" width="1.4" height="2.9" fill="#c4b636"/>
<text x="299.3" y="97.67" font-size="4.2" text-anchor="end" fill="#2a2a2a" stroke="#2a2a2a" stroke-width="0.13">chr15</text>
<rect x="301.6" y="99.85" width="90.6" height="2.9" rx="1.2" fill="#c9c9c9"/>
<rect x="302.5" y="99.85" width="1.1" height="2.9" fill="#e3423a"/>
<rect x="310.8" y="99.85" width="1.2" height="2.9" fill="#f0a212"/>
<rect x="317.2" y="99.85" width="1.4" height="2.9" fill="#e3423a"/>
<rect x="322.0" y="99.85" width="2.0" height="2.9" fill="#3aa637"/>
<rect x="328.6" y="99.85" width="2.0" height="2.9" fill="#f0a212"/>
<rect x="335.4" y="99.85" width="1.6" height="2.9" fill="#f0a212"/>
<rect x="341.2" y="99.85" width="2.0" height="2.9" fill="#c4b636"/>
<rect x="349.3" y="99.85" width="1.4" height="2.9" fill="#c4b636"/>
<rect x="352.8" y="99.85" width="1.0" height="2.9" fill="#c4b636"/>
<rect x="359.6" y="99.85" width="1.1" height="2.9" fill="#3aa637"/>
<rect x="366.5" y="99.85" width="1.6" height="2.9" fill="#c4b636"/>
<rect x="371.2" y="99.85" width="1.6" height="2.9" fill="#3aa637"/>
<rect x="378.5" y="99.85" width="1.2" height="2.9" fill="#3aa637"/>
<rect x="383.5" y="99.85" width="1.2" height="2.9" fill="#3aa637"/>
<rect x="388.5" y="99.85" width="1.2" height="2.9" fill="#3aa637"/>
<text x="299.3" y="102.75" font-size="4.2" text-anchor="end" fill="#2a2a2a" stroke="#2a2a2a" stroke-width="0.13">chr16</text>
<rect x="301.6" y="104.94" width="79.2" height="2.9" rx="1.2" fill="#c9c9c9"/>
<rect x="303.9" y="104.94" width="1.4" height="2.9" fill="#3aa637"/>
<rect x="311.9" y="104.94" width="1.1" height="2.9" fill="#f0a212"/>
<rect x="322.2" y="104.94" width="1.6" height="2.9" fill="#f0a212"/>
<rect x="330.2" y="104.94" width="1.2" height="2.9" fill="#c4b636"/>
<rect x="347.0" y="104.94" width="1.0" height="2.9" fill="#3aa637"/>
<rect x="358.7" y="104.94" width="2.0" height="2.9" fill="#e3423a"/>
<rect x="365.5" y="104.94" width="2.0" height="2.9" fill="#f0a212"/>
<rect x="373.1" y="104.94" width="1.1" height="2.9" fill="#f0a212"/>
<text x="299.3" y="107.84" font-size="4.2" text-anchor="end" fill="#2a2a2a" stroke="#2a2a2a" stroke-width="0.13">chr17</text>
<rect x="301.6" y="110.03" width="75.7" height="2.9" rx="1.2" fill="#c9c9c9"/>
<rect x="302.9" y="110.03" width="1.2" height="2.9" fill="#3aa637"/>
<rect x="311.8" y="110.03" width="1.0" height="2.9" fill="#3aa637"/>
<rect x="319.3" y="110.03" width="1.1" height="2.9" fill="#3aa637"/>
<rect x="322.7" y="110.03" width="1.0" height="2.9" fill="#3aa637"/>
<rect x="330.8" y="110.03" width="1.0" height="2.9" fill="#f0a212"/>
<rect x="337.1" y="110.03" width="1.2" height="2.9" fill="#3aa637"/>
<rect x="343.1" y="110.03" width="1.1" height="2.9" fill="#3aa637"/>
<rect x="353.1" y="110.03" width="1.4" height="2.9" fill="#3aa637"/>
<rect x="356.3" y="110.03" width="1.4" height="2.9" fill="#3aa637"/>
<rect x="361.4" y="110.03" width="1.6" height="2.9" fill="#f0a212"/>
<rect x="366.9" y="110.03" width="1.2" height="2.9" fill="#3aa637"/>
<rect x="371.2" y="110.03" width="1.1" height="2.9" fill="#3aa637"/>
<text x="299.3" y="112.93" font-size="4.2" text-anchor="end" fill="#2a2a2a" stroke="#2a2a2a" stroke-width="0.13">chr18</text>
<rect x="301.6" y="115.12" width="58.0" height="2.9" rx="1.2" fill="#c9c9c9"/>
<rect x="302.0" y="115.12" width="1.0" height="2.9" fill="#f0a212"/>
<rect x="320.3" y="115.12" width="1.4" height="2.9" fill="#e3423a"/>
<rect x="327.7" y="115.12" width="1.2" height="2.9" fill="#f0a212"/>
<rect x="335.3" y="115.12" width="1.4" height="2.9" fill="#3aa637"/>
<rect x="340.5" y="115.12" width="1.2" height="2.9" fill="#c4b636"/>
<rect x="344.8" y="115.12" width="1.6" height="2.9" fill="#3aa637"/>
<rect x="349.9" y="115.12" width="1.0" height="2.9" fill="#f0a212"/>
<rect x="353.1" y="115.12" width="1.6" height="2.9" fill="#3aa637"/>
<text x="299.3" y="118.02" font-size="4.2" text-anchor="end" fill="#2a2a2a" stroke="#2a2a2a" stroke-width="0.13">chr19</text>
<rect x="301.6" y="120.20" width="62.2" height="2.9" rx="1.2" fill="#c9c9c9"/>
<rect x="303.5" y="120.20" width="1.1" height="2.9" fill="#e3423a"/>
<rect x="307.2" y="120.20" width="1.0" height="2.9" fill="#3aa637"/>
<rect x="311.4" y="120.20" width="1.1" height="2.9" fill="#3aa637"/>
<rect x="313.8" y="120.20" width="1.6" height="2.9" fill="#c4b636"/>
<rect x="318.3" y="120.20" width="1.6" height="2.9" fill="#c4b636"/>
<rect x="324.3" y="120.20" width="1.1" height="2.9" fill="#c4b636"/>
<rect x="326.8" y="120.20" width="1.2" height="2.9" fill="#3aa637"/>
<rect x="332.1" y="120.20" width="2.0" height="2.9" fill="#f0a212"/>
<rect x="334.6" y="120.20" width="1.6" height="2.9" fill="#c4b636"/>
<rect x="338.3" y="120.20" width="1.6" height="2.9" fill="#3aa637"/>
<rect x="343.0" y="120.20" width="1.0" height="2.9" fill="#c4b636"/>
<rect x="347.7" y="120.20" width="1.0" height="2.9" fill="#3aa637"/>
<rect x="349.4" y="120.20" width="2.0" height="2.9" fill="#f0a212"/>
<rect x="355.6" y="120.20" width="1.2" height="2.9" fill="#c4b636"/>
<rect x="360.7" y="120.20" width="1.1" height="2.9" fill="#3aa637"/>
<text x="299.3" y="123.10" font-size="4.2" text-anchor="end" fill="#2a2a2a" stroke="#2a2a2a" stroke-width="0.13">chr20</text>
<rect x="301.6" y="125.29" width="42.4" height="2.9" rx="1.2" fill="#c9c9c9"/>
<rect x="302.5" y="125.29" width="2.0" height="2.9" fill="#f0a212"/>
<rect x="306.9" y="125.29" width="1.6" height="2.9" fill="#c4b636"/>
<rect x="310.9" y="125.29" width="1.4" height="2.9" fill="#c4b636"/>
<rect x="315.8" y="125.29" width="1.4" height="2.9" fill="#3aa637"/>
<rect x="320.1" y="125.29" width="2.0" height="2.9" fill="#3aa637"/>
<rect x="326.9" y="125.29" width="1.1" height="2.9" fill="#3aa637"/>
<rect x="332.9" y="125.29" width="1.6" height="2.9" fill="#3aa637"/>
<rect x="339.6" y="125.29" width="1.0" height="2.9" fill="#c4b636"/>
<text x="299.3" y="128.19" font-size="4.2" text-anchor="end" fill="#2a2a2a" stroke="#2a2a2a" stroke-width="0.13">chr21</text>
<rect x="301.6" y="130.38" width="48.2" height="2.9" rx="1.2" fill="#c9c9c9"/>
<rect x="303.0" y="130.38" width="1.2" height="2.9" fill="#3aa637"/>
<rect x="308.2" y="130.38" width="1.4" height="2.9" fill="#3aa637"/>
<rect x="312.3" y="130.38" width="2.0" height="2.9" fill="#f0a212"/>
<rect x="315.2" y="130.38" width="1.1" height="2.9" fill="#e3423a"/>
<rect x="319.2" y="130.38" width="1.1" height="2.9" fill="#f0a212"/>
<rect x="324.8" y="130.38" width="1.4" height="2.9" fill="#f0a212"/>
<rect x="328.5" y="130.38" width="1.6" height="2.9" fill="#3aa637"/>
<rect x="336.7" y="130.38" width="1.6" height="2.9" fill="#e3423a"/>
<rect x="337.7" y="130.38" width="1.2" height="2.9" fill="#3aa637"/>
<rect x="343.5" y="130.38" width="1.4" height="2.9" fill="#3aa637"/>
<text x="299.3" y="133.28" font-size="4.2" text-anchor="end" fill="#2a2a2a" stroke="#2a2a2a" stroke-width="0.13">chr22</text>
<rect x="301.6" y="135.46" width="145.0" height="2.9" rx="1.2" fill="#c9c9c9"/>
<rect x="303.4" y="135.46" width="1.0" height="2.9" fill="#c4b636"/>
<rect x="310.2" y="135.46" width="1.1" height="2.9" fill="#f0a212"/>
<rect x="319.0" y="135.46" width="1.6" height="2.9" fill="#c4b636"/>
<rect x="324.0" y="135.46" width="1.0" height="2.9" fill="#3aa637"/>
<rect x="331.7" y="135.46" width="1.6" height="2.9" fill="#3aa637"/>
<rect x="343.1" y="135.46" width="1.6" height="2.9" fill="#3aa637"/>
<rect x="349.2" y="135.46" width="1.1" height="2.9" fill="#f0a212"/>
<rect x="353.9" y="135.46" width="1.4" height="2.9" fill="#c4b636"/>
<rect x="362.3" y="135.46" width="1.6" height="2.9" fill="#f0a212"/>
<rect x="366.4" y="135.46" width="1.0" height="2.9" fill="#c4b636"/>
<rect x="371.4" y="135.46" width="1.1" height="2.9" fill="#3aa637"/>
<rect x="376.9" y="135.46" width="1.1" height="2.9" fill="#3aa637"/>
<rect x="385.4" y="135.46" width="1.0" height="2.9" fill="#e3423a"/>
<rect x="400.8" y="135.46" width="1.6" height="2.9" fill="#3aa637"/>
<rect x="410.0" y="135.46" width="2.0" height="2.9" fill="#3aa637"/>
<rect x="424.0" y="135.46" width="1.2" height="2.9" fill="#c4b636"/>
<rect x="431.1" y="135.46" width="1.0" height="2.9" fill="#c4b636"/>
<rect x="439.8" y="135.46" width="2.0" height="2.9" fill="#f0a212"/>
<rect x="442.6" y="135.46" width="1.2" height="2.9" fill="#3aa637"/>
<text x="299.3" y="138.36" font-size="4.2" text-anchor="end" fill="#2a2a2a" stroke="#2a2a2a" stroke-width="0.13">chr X</text>
<rect x="301.6" y="140.55" width="58.7" height="2.9" rx="1.2" fill="#c9c9c9"/>
<rect x="303.0" y="140.55" width="1.0" height="2.9" fill="#3aa637"/>
<rect x="308.2" y="140.55" width="1.6" height="2.9" fill="#3aa637"/>
<rect x="314.4" y="140.55" width="1.0" height="2.9" fill="#3aa637"/>
<rect x="321.9" y="140.55" width="1.0" height="2.9" fill="#3aa637"/>
<rect x="326.2" y="140.55" width="1.4" height="2.9" fill="#3aa637"/>
<rect x="332.1" y="140.55" width="1.4" height="2.9" fill="#3aa637"/>
<rect x="340.7" y="140.55" width="1.0" height="2.9" fill="#3aa637"/>
<rect x="342.1" y="140.55" width="2.0" height="2.9" fill="#c4b636"/>
<rect x="345.3" y="140.55" width="1.2" height="2.9" fill="#3aa637"/>
<rect x="351.3" y="140.55" width="1.2" height="2.9" fill="#c4b636"/>
<rect x="358.3" y="140.55" width="1.6" height="2.9" fill="#f0a212"/>
<text x="299.3" y="143.45" font-size="4.2" text-anchor="end" fill="#2a2a2a" stroke="#2a2a2a" stroke-width="0.13">chr Y</text>
<line x1="301.6" y1="147.6" x2="537.1" y2="147.6" stroke="#c4c4c4" stroke-width="0.5"/>
<line x1="348.6" y1="147.6" x2="348.6" y2="148.9" stroke="#c4c4c4" stroke-width="0.5"/>
<text x="348.6" y="155.5" font-size="4.7" text-anchor="middle" fill="#333" stroke="#333" stroke-width="0.13">50Mbp</text>
<line x1="395.6" y1="147.6" x2="395.6" y2="148.9" stroke="#c4c4c4" stroke-width="0.5"/>
<text x="395.6" y="155.5" font-size="4.7" text-anchor="middle" fill="#333" stroke="#333" stroke-width="0.13">100Mbp</text>
<line x1="442.6" y1="147.6" x2="442.6" y2="148.9" stroke="#c4c4c4" stroke-width="0.5"/>
<text x="442.6" y="155.5" font-size="4.7" text-anchor="middle" fill="#333" stroke="#333" stroke-width="0.13">150Mbp</text>
<line x1="489.6" y1="147.6" x2="489.6" y2="148.9" stroke="#c4c4c4" stroke-width="0.5"/>
<text x="489.6" y="155.5" font-size="4.7" text-anchor="middle" fill="#333" stroke="#333" stroke-width="0.13">200Mbp</text>
<rect x="492.6" y="88.60" width="2" height="4.15" fill="#3aa637"/>
<text x="496.40000000000003" y="92.10" font-size="3.9" fill="#2a2a2a" stroke="#2a2a2a" stroke-width="0.13">&lt;=100</text>
<rect x="492.6" y="92.75" width="2" height="4.15" fill="#c4b636"/>
<text x="496.40000000000003" y="96.25" font-size="3.9" fill="#2a2a2a" stroke="#2a2a2a" stroke-width="0.13">100-500</text>
<rect x="492.6" y="96.90" width="2" height="4.15" fill="#f0a212"/>
<text x="496.40000000000003" y="100.40" font-size="3.9" fill="#2a2a2a" stroke="#2a2a2a" stroke-width="0.13">500-2000</text>
<rect x="492.6" y="101.05" width="2" height="4.15" fill="#e3423a"/>
<text x="496.40000000000003" y="104.55" font-size="3.9" fill="#2a2a2a" stroke="#2a2a2a" stroke-width="0.13">&gt;2000</text>
</g>
<rect x="284.6" y="83.5" width="36.4" height="15.6" rx="1.5" fill="none" stroke="#d0151d" stroke-width="1.1" stroke-dasharray="3.8 3.1"/>
<rect x="322.6" y="138.3" width="41.4" height="7.1" rx="1.5" fill="none" stroke="#d0151d" stroke-width="1.1" stroke-dasharray="3.8 3.1"/>
<g id="panelC">
<text x="13.3" y="174.8" font-size="14.1" fill="#000" stroke="#000" stroke-width="0.3">C</text>
<rect x="28.5" y="177.5" width="242.8" height="196.7" fill="#fff"/>
<line x1="71.7" y1="177.5" x2="71.7" y2="374.2" stroke="#f2f2f2" stroke-width="0.35"/>
<line x1="125.8" y1="177.5" x2="125.8" y2="374.2" stroke="#f2f2f2" stroke-width="0.35"/>
<line x1="179.8" y1="177.5" x2="179.8" y2="374.2" stroke="#f2f2f2" stroke-width="0.35"/>
<line x1="233.9" y1="177.5" x2="233.9" y2="374.2" stroke="#f2f2f2" stroke-width="0.35"/>
<line x1="28.5" y1="330.1" x2="271.3" y2="330.1" stroke="#f2f2f2" stroke-width="0.35"/>
<line x1="28.5" y1="289.1" x2="271.3" y2="289.1" stroke="#f2f2f2" stroke-width="0.35"/>
<line x1="28.5" y1="248.1" x2="271.3" y2="248.1" stroke="#f2f2f2" stroke-width="0.35"/>
<line x1="28.5" y1="207.1" x2="271.3" y2="207.1" stroke="#f2f2f2" stroke-width="0.35"/>
<line x1="44.7" y1="177.5" x2="44.7" y2="374.2" stroke="#e9e9e9" stroke-width="0.55"/>
<line x1="98.8" y1="177.5" x2="98.8" y2="374.2" stroke="#e9e9e9" stroke-width="0.55"/>
<line x1="152.8" y1="177.5" x2="152.8" y2="374.2" stroke="#e9e9e9" stroke-width="0.55"/>
<line x1="206.8" y1="177.5" x2="206.8" y2="374.2" stroke="#e9e9e9" stroke-width="0.55"/>
<line x1="260.9" y1="177.5" x2="260.9" y2="374.2" stroke="#e9e9e9" stroke-width="0.55"/>
<line x1="28.5" y1="350.6" x2="271.3" y2="350.6" stroke="#e9e9e9" stroke-width="0.55"/>
<line x1="28.5" y1="309.6" x2="271.3" y2="309.6" stroke="#e9e9e9" stroke-width="0.55"/>
<line x1="28.5" y1="268.6" x2="271.3" y2="268.6" stroke="#e9e9e9" stroke-width="0.55"/>
<line x1="28.5" y1="227.6" x2="271.3" y2="227.6" stroke="#e9e9e9" stroke-width="0.55"/>
<line x1="28.5" y1="186.6" x2="271.3" y2="186.6" stroke="#e9e9e9" stroke-width="0.55"/>
<path d="M40.4,330.5 L45.9,328.9 L51.4,327.2 L56.9,325.6 L62.4,323.9 L67.8,322.2 L73.3,320.4 L78.8,318.7 L84.3,316.9 L89.8,315.0 L95.3,313.2 L100.8,311.2 L106.3,309.2 L111.8,307.2 L117.3,305.1 L122.8,302.9 L128.2,300.6 L133.7,298.3 L139.2,295.9 L144.7,293.4 L150.2,290.8 L155.7,288.2 L161.2,285.5 L166.7,282.7 L172.2,279.9 L177.7,277.1 L183.1,274.2 L188.6,271.3 L194.1,268.4 L199.6,265.4 L205.1,262.4 L210.6,259.4 L216.1,256.4 L221.6,253.3 L227.1,250.3 L232.6,247.2 L238.0,244.2 L243.5,241.1 L249.0,238.0 L254.5,234.9 L260.0,231.8 L260.0,276.2 L254.5,277.7 L249.0,279.3 L243.5,280.9 L238.0,282.5 L232.6,284.1 L227.1,285.7 L221.6,287.3 L216.1,288.9 L210.6,290.5 L205.1,292.2 L199.6,293.9 L194.1,295.6 L188.6,297.3 L183.1,299.0 L177.7,300.8 L172.2,302.6 L166.7,304.5 L161.2,306.4 L155.7,308.4 L150.2,310.4 L144.7,312.5 L139.2,314.7 L133.7,316.9 L128.2,319.2 L122.8,321.6 L117.3,324.1 L111.8,326.6 L106.3,329.2 L100.8,331.9 L95.3,334.6 L89.8,337.4 L84.3,340.2 L78.8,343.1 L73.3,346.0 L67.8,348.9 L62.4,351.9 L56.9,354.9 L51.4,357.9 L45.9,360.9 L40.4,363.9Z" fill="#999999" fill-opacity="0.4"/>
<path d="M40.4,325.9 L45.9,324.5 L51.4,323.1 L56.9,321.7 L62.4,320.3 L67.8,318.8 L73.3,317.3 L78.8,315.8 L84.3,314.3 L89.8,312.7 L95.3,311.0 L100.8,309.3 L106.3,307.6 L111.8,305.7 L117.3,303.8 L122.8,301.9 L128.2,299.8 L133.7,297.7 L139.2,295.4 L144.7,293.1 L150.2,290.8 L155.7,288.3 L161.2,285.8 L166.7,283.2 L172.2,280.6 L177.7,277.9 L183.1,275.2 L188.6,272.5 L194.1,269.7 L199.6,266.9 L205.1,264.1 L210.6,261.3 L216.1,258.4 L221.6,255.5 L227.1,252.6 L232.6,249.7 L238.0,246.8 L243.5,243.9 L249.0,241.0 L254.5,238.0 L260.0,235.1 L260.0,282.1 L254.5,283.4 L249.0,284.7 L243.5,286.0 L238.0,287.4 L232.6,288.7 L227.1,290.1 L221.6,291.4 L216.1,292.8 L210.6,294.2 L205.1,295.6 L199.6,297.0 L194.1,298.5 L188.6,300.0 L183.1,301.5 L177.7,303.0 L172.2,304.6 L166.7,306.2 L161.2,307.9 L155.7,309.6 L150.2,311.4 L144.7,313.3 L139.2,315.3 L133.7,317.3 L128.2,319.4 L122.8,321.6 L117.3,323.9 L111.8,326.2 L106.3,328.6 L100.8,331.1 L95.3,333.7 L89.8,336.3 L84.3,338.9 L78.8,341.6 L73.3,344.4 L67.8,347.1 L62.4,349.9 L56.9,352.7 L51.4,355.6 L45.9,358.4 L40.4,361.3Z" fill="#999999" fill-opacity="0.4"/>
<path d="M40.4,324.5 L45.9,323.1 L51.4,321.8 L56.9,320.4 L62.4,319.0 L67.8,317.6 L73.3,316.2 L78.8,314.7 L84.3,313.2 L89.8,311.6 L95.3,310.0 L100.8,308.4 L106.3,306.7 L111.8,304.9 L117.3,303.0 L122.8,301.1 L128.2,299.1 L133.7,297.0 L139.2,294.9 L144.7,292.6 L150.2,290.3 L155.7,287.9 L161.2,285.5 L166.7,283.0 L172.2,280.4 L177.7,277.8 L183.1,275.2 L188.6,272.5 L194.1,269.8 L199.6,267.1 L205.1,264.3 L210.6,261.6 L216.1,258.8 L221.6,256.0 L227.1,253.2 L232.6,250.4 L238.0,247.5 L243.5,244.7 L249.0,241.8 L254.5,239.0 L260.0,236.1 L260.0,281.9 L254.5,283.2 L249.0,284.4 L243.5,285.7 L238.0,287.0 L232.6,288.3 L227.1,289.6 L221.6,291.0 L216.1,292.3 L210.6,293.6 L205.1,295.0 L199.6,296.4 L194.1,297.8 L188.6,299.2 L183.1,300.7 L177.7,302.2 L172.2,303.7 L166.7,305.3 L161.2,306.9 L155.7,308.6 L150.2,310.4 L144.7,312.2 L139.2,314.1 L133.7,316.1 L128.2,318.1 L122.8,320.3 L117.3,322.5 L111.8,324.8 L106.3,327.1 L100.8,329.5 L95.3,332.0 L89.8,334.6 L84.3,337.2 L78.8,339.8 L73.3,342.4 L67.8,345.1 L62.4,347.8 L56.9,350.6 L51.4,353.3 L45.9,356.1 L40.4,358.9Z" fill="#999999" fill-opacity="0.4"/>
<line x1="40.4" y1="347.2" x2="260.0" y2="254.0" stroke="#2a7dc0" stroke-width="1.2"/>
<line x1="40.4" y1="343.6" x2="260.0" y2="258.6" stroke="#c63a2c" stroke-width="1.0" stroke-dasharray="4.5 3"/>
<line x1="40.4" y1="341.7" x2="260.0" y2="259.0" stroke="#f2961c" stroke-width="1.5" stroke-dasharray="7 3.5"/>
<line x1="42" y1="321.5" x2="54" y2="333.5" stroke="#c63a2c" stroke-width="0.6"/>
<line x1="58.8" y1="324.5" x2="55.8" y2="334" stroke="#2a7dc0" stroke-width="0.6"/>
<line x1="65" y1="325.3" x2="58.6" y2="334" stroke="#f2961c" stroke-width="0.6"/>
<line x1="105" y1="339" x2="107" y2="336" stroke="#c63a2c" stroke-width="0.6"/>
<line x1="145" y1="299.5" x2="137.2" y2="303.7" stroke="#f2961c" stroke-width="0.6"/>
<line x1="137" y1="314.5" x2="139" y2="317.6" stroke="#f2961c" stroke-width="0.6"/>
<circle cx="260" cy="273.6" r="1.05" fill="#2a7dc0"/>
<path d="M260,285.2 L261.25,287.45 L258.75,287.45Z" fill="#c63a2c"/>
<rect x="258.00" y="290.00" width="2" height="2" fill="#f2961c"/>
<circle cx="254.4" cy="186.4" r="1.05" fill="#2a7dc0"/>
<path d="M253.4,184.7 L254.65,186.95 L252.15,186.95Z" fill="#c63a2c"/>
<rect x="252.90" y="184.40" width="2" height="2" fill="#f2961c"/>
<rect x="206.90" y="303.50" width="2" height="2" fill="#f2961c"/>
<circle cx="205.9" cy="309.6" r="1.05" fill="#2a7dc0"/>
<path d="M205.3,308.0 L206.55,310.25 L204.05,310.25Z" fill="#c63a2c"/>
<rect x="198.90" y="286.30" width="2" height="2" fill="#f2961c"/>
<circle cx="198.3" cy="290.4" r="1.05" fill="#2a7dc0"/>
<path d="M197.4,288.8 L198.65,291.05 L196.15,291.05Z" fill="#c63a2c"/>
<circle cx="186.2" cy="291.4" r="1.05" fill="#2a7dc0"/>
<rect x="186.60" y="290.00" width="2" height="2" fill="#f2961c"/>
<path d="M186.8,289.8 L188.05,292.05 L185.55,292.05Z" fill="#c63a2c"/>
<circle cx="176.4" cy="328.9" r="1.05" fill="#2a7dc0"/>
<rect x="176.20" y="327.50" width="2" height="2" fill="#f2961c"/>
<path d="M175.7,327.2 L176.95,329.45 L174.45,329.45Z" fill="#c63a2c"/>
<circle cx="163" cy="268.7" r="1.05" fill="#2a7dc0"/>
<rect x="163.40" y="267.30" width="2" height="2" fill="#f2961c"/>
<path d="M163.5,267.09999999999997 L164.75,269.34999999999997 L162.25,269.34999999999997Z" fill="#c63a2c"/>
<circle cx="148.3" cy="286.9" r="1.05" fill="#2a7dc0"/>
<rect x="148.60" y="285.60" width="2" height="2" fill="#f2961c"/>
<path d="M148.8,285.4 L150.05,287.65 L147.55,287.65Z" fill="#c63a2c"/>
<circle cx="157.7" cy="281.4" r="1.05" fill="#2a7dc0"/>
<rect x="156.20" y="280.00" width="2" height="2" fill="#f2961c"/>
<path d="M158.4,279.7 L159.65,281.95 L157.15,281.95Z" fill="#c63a2c"/>
<circle cx="143.4" cy="301.9" r="1.05" fill="#2a7dc0"/>
<rect x="152.70" y="295.50" width="2" height="2" fill="#f2961c"/>
<path d="M140.5,295.2 L141.75,297.45 L139.25,297.45Z" fill="#c63a2c"/>
<rect x="135.80" y="312.90" width="2" height="2" fill="#f2961c"/>
<circle cx="137.5" cy="313.4" r="1.05" fill="#2a7dc0"/>
<path d="M136.1,312.4 L137.35,314.65 L134.85,314.65Z" fill="#c63a2c"/>
<circle cx="137.4" cy="304.4" r="1.05" fill="#2a7dc0"/>
<rect x="135.60" y="303.00" width="2" height="2" fill="#f2961c"/>
<path d="M137.1,303.3 L138.35,305.55 L135.85,305.55Z" fill="#c63a2c"/>
<circle cx="135.3" cy="334.9" r="1.05" fill="#2a7dc0"/>
<rect x="133.50" y="333.60" width="2" height="2" fill="#f2961c"/>
<path d="M134.9,333.09999999999997 L136.15,335.34999999999997 L133.65,335.34999999999997Z" fill="#c63a2c"/>
<rect x="112.70" y="320.20" width="2" height="2" fill="#f2961c"/>
<circle cx="115.3" cy="332.3" r="1.05" fill="#2a7dc0"/>
<path d="M114.8,330.8 L116.05,333.05 L113.55,333.05Z" fill="#c63a2c"/>
<rect x="102.20" y="320.00" width="2" height="2" fill="#f2961c"/>
<circle cx="107.5" cy="335.5" r="1.05" fill="#2a7dc0"/>
<path d="M107,334.0 L108.25,336.25 L105.75,336.25Z" fill="#c63a2c"/>
<rect x="98.20" y="322.60" width="2" height="2" fill="#f2961c"/>
<circle cx="101.2" cy="334" r="1.05" fill="#2a7dc0"/>
<path d="M101.7,332.9 L102.95,335.15 L100.45,335.15Z" fill="#c63a2c"/>
<rect x="97.80" y="322.90" width="2" height="2" fill="#f2961c"/>
<circle cx="91.5" cy="324.7" r="1.05" fill="#2a7dc0"/>
<path d="M88.3,321.2 L89.55,323.45 L87.05,323.45Z" fill="#c63a2c"/>
<circle cx="78.3" cy="312.6" r="1.05" fill="#2a7dc0"/>
<path d="M80.5,311.3 L81.75,313.55 L79.25,313.55Z" fill="#c63a2c"/>
<rect x="80.80" y="311.60" width="2" height="2" fill="#f2961c"/>
<circle cx="75.3" cy="347.5" r="1.05" fill="#2a7dc0"/>
<path d="M77.1,346.09999999999997 L78.35,348.34999999999997 L75.85,348.34999999999997Z" fill="#c63a2c"/>
<rect x="77.00" y="346.50" width="2" height="2" fill="#f2961c"/>
<circle cx="55.5" cy="335.1" r="1.05" fill="#2a7dc0"/>
<rect x="57.00" y="334.00" width="2" height="2" fill="#f2961c"/>
<path d="M54.9,333.0 L56.15,335.25 L53.65,335.25Z" fill="#c63a2c"/>
<rect x="61.00" y="338.00" width="2" height="2" fill="#f2961c"/>
<circle cx="58.7" cy="341.3" r="1.05" fill="#2a7dc0"/>
<path d="M59.6,339.7 L60.85,341.95 L58.35,341.95Z" fill="#c63a2c"/>
<rect x="38.80" y="328.20" width="2" height="2" fill="#f2961c"/>
<circle cx="43.3" cy="336.5" r="1.05" fill="#2a7dc0"/>
<path d="M42,334.9 L43.25,337.15 L40.75,337.15Z" fill="#c63a2c"/>
<rect x="45.50" y="320.50" width="2" height="2" fill="#f2961c"/>
<circle cx="47" cy="338.8" r="1.05" fill="#2a7dc0"/>
<path d="M47.6,337.2 L48.85,339.45 L46.35,339.45Z" fill="#c63a2c"/>
<circle cx="56.5" cy="338" r="1.05" fill="#2a7dc0"/>
<path d="M62.3,335.9 L63.55,338.15 L61.05,338.15Z" fill="#c63a2c"/>
<text x="257" y="184.05" font-size="4.1" text-anchor="middle" fill="#f2961c" stroke="#f2961c" stroke-width="0.13">chr2</text>
<text x="249" y="191.45" font-size="4.1" text-anchor="middle" fill="#c63a2c" stroke="#c63a2c" stroke-width="0.13">chr2</text>
<text x="257.4" y="190.85" font-size="4.1" text-anchor="middle" fill="#2a7dc0" stroke="#2a7dc0" stroke-width="0.13">2</text>
<text x="257.3" y="276.25" font-size="4.1" text-anchor="middle" fill="#2a7dc0" stroke="#2a7dc0" stroke-width="0.13">1</text>
<text x="263.8" y="284.25" font-size="4.1" text-anchor="middle" fill="#c63a2c" stroke="#c63a2c" stroke-width="0.13">chr1</text>
<text x="254.8" y="296.05" font-size="4.1" text-anchor="middle" fill="#f2961c" stroke="#f2961c" stroke-width="0.13">chr1</text>
<text x="204.5" y="284.85" font-size="4.1" text-anchor="middle" fill="#f2961c" stroke="#f2961c" stroke-width="0.13">chr4</text>
<text x="194.5" y="288.35" font-size="4.1" text-anchor="middle" fill="#c63a2c" stroke="#c63a2c" stroke-width="0.13">chr4</text>
<text x="200.8" y="293.45" font-size="4.1" text-anchor="middle" fill="#2a7dc0" stroke="#2a7dc0" stroke-width="0.13">4</text>
<text x="183" y="295.05" font-size="4.1" text-anchor="middle" fill="#2a7dc0" stroke="#2a7dc0" stroke-width="0.13">5</text>
<text x="191.6" y="296.05" font-size="4.1" text-anchor="middle" fill="#c63a2c" stroke="#c63a2c" stroke-width="0.13">chr5</text>
<text x="211.8" y="302.15" font-size="4.1" text-anchor="middle" fill="#f2961c" stroke="#f2961c" stroke-width="0.13">chr3</text>
<text x="210.8" y="308.85" font-size="4.1" text-anchor="middle" fill="#c63a2c" stroke="#c63a2c" stroke-width="0.13">chr3</text>
<text x="201.2" y="312.65" font-size="4.1" text-anchor="middle" fill="#2a7dc0" stroke="#2a7dc0" stroke-width="0.13">3</text>
<text x="171.5" y="326.45" font-size="4.1" text-anchor="middle" fill="#c63a2c" stroke="#c63a2c" stroke-width="0.13">chr6</text>
<text x="181.5" y="326.45" font-size="4.1" text-anchor="middle" fill="#f2961c" stroke="#f2961c" stroke-width="0.13">chr6</text>
<text x="179.7" y="332.75" font-size="4.1" text-anchor="middle" fill="#2a7dc0" stroke="#2a7dc0" stroke-width="0.13">6</text>
<text x="159" y="266.05" font-size="4.1" text-anchor="middle" fill="#c63a2c" stroke="#c63a2c" stroke-width="0.13">chr7</text>
<text x="159.6" y="272.45" font-size="4.1" text-anchor="middle" fill="#2a7dc0" stroke="#2a7dc0" stroke-width="0.13">7</text>
<text x="169.2" y="273.05" font-size="4.1" text-anchor="middle" fill="#f2961c" stroke="#f2961c" stroke-width="0.13">chr7</text>
<text x="153" y="278.45" font-size="4.1" text-anchor="middle" fill="#f2961c" stroke="#f2961c" stroke-width="0.13">chrX</text>
<text x="163.5" y="279.25" font-size="4.1" text-anchor="middle" fill="#c63a2c" stroke="#c63a2c" stroke-width="0.13">chrX</text>
<text x="157.3" y="285.65" font-size="4.1" text-anchor="middle" fill="#2a7dc0" stroke="#2a7dc0" stroke-width="0.13">X</text>
<text x="142.8" y="283.65" font-size="4.1" text-anchor="middle" fill="#c63a2c" stroke="#c63a2c" stroke-width="0.13">chr8</text>
<text x="152" y="283.65" font-size="4.1" text-anchor="middle" fill="#2a7dc0" stroke="#2a7dc0" stroke-width="0.13">8</text>
<text x="145" y="291.65" font-size="4.1" text-anchor="middle" fill="#f2961c" stroke="#f2961c" stroke-width="0.13">chr8</text>
<text x="156.6" y="293.85" font-size="4.1" text-anchor="middle" fill="#f2961c" stroke="#f2961c" stroke-width="0.13">chr9</text>
<text x="134.7" y="296.65" font-size="4.1" text-anchor="middle" fill="#c63a2c" stroke="#c63a2c" stroke-width="0.13">chr9</text>
<text x="146.7" y="305.45" font-size="4.1" text-anchor="middle" fill="#2a7dc0" stroke="#2a7dc0" stroke-width="0.13">9</text>
<text x="148" y="299.75" font-size="4.1" text-anchor="middle" fill="#f2961c" stroke="#f2961c" stroke-width="0.13">chr11</text>
<text x="132.7" y="302.05" font-size="4.1" text-anchor="middle" fill="#2a7dc0" stroke="#2a7dc0" stroke-width="0.13">11</text>
<text x="131.6" y="308.05" font-size="4.1" text-anchor="middle" fill="#f2961c" stroke="#f2961c" stroke-width="0.13">chr5</text>
<text x="127.8" y="314.85" font-size="4.1" text-anchor="middle" fill="#c63a2c" stroke="#c63a2c" stroke-width="0.13">chr10</text>
<text x="141.9" y="314.45" font-size="4.1" text-anchor="middle" fill="#2a7dc0" stroke="#2a7dc0" stroke-width="0.13">10</text>
<text x="140" y="320.65" font-size="4.1" text-anchor="middle" fill="#f2961c" stroke="#f2961c" stroke-width="0.13">chr10</text>
<text x="118.4" y="326.05" font-size="4.1" text-anchor="middle" fill="#f2961c" stroke="#f2961c" stroke-width="0.13">chr13</text>
<text x="122.2" y="331.95" font-size="4.1" text-anchor="middle" fill="#c63a2c" stroke="#c63a2c" stroke-width="0.13">chr13</text>
<text x="118.5" y="337.35" font-size="4.1" text-anchor="middle" fill="#2a7dc0" stroke="#2a7dc0" stroke-width="0.13">13</text>
<text x="134.2" y="332.35" font-size="4.1" text-anchor="middle" fill="#c63a2c" stroke="#c63a2c" stroke-width="0.13">chr12</text>
<text x="140.6" y="338.15" font-size="4.1" text-anchor="middle" fill="#2a7dc0" stroke="#2a7dc0" stroke-width="0.13">12</text>
<text x="131" y="339.75" font-size="4.1" text-anchor="middle" fill="#f2961c" stroke="#f2961c" stroke-width="0.13">chr12</text>
<text x="73.8" y="310.45" font-size="4.1" text-anchor="middle" fill="#c63a2c" stroke="#c63a2c" stroke-width="0.13">chr17</text>
<text x="86" y="310.45" font-size="4.1" text-anchor="middle" fill="#f2961c" stroke="#f2961c" stroke-width="0.13">chr17</text>
<text x="75" y="316.75" font-size="4.1" text-anchor="middle" fill="#2a7dc0" stroke="#2a7dc0" stroke-width="0.13">17</text>
<text x="91" y="319.85" font-size="4.1" text-anchor="middle" fill="#c63a2c" stroke="#c63a2c" stroke-width="0.13">chr16</text>
<text x="82.8" y="327.45" font-size="4.1" text-anchor="middle" fill="#f2961c" stroke="#f2961c" stroke-width="0.13">chr16</text>
<text x="93.2" y="326.85" font-size="4.1" text-anchor="middle" fill="#2a7dc0" stroke="#2a7dc0" stroke-width="0.13">16</text>
<text x="103.9" y="318.45" font-size="4.1" text-anchor="middle" fill="#f2961c" stroke="#f2961c" stroke-width="0.13">chr14</text>
<text x="107" y="324.85" font-size="4.1" text-anchor="middle" fill="#f2961c" stroke="#f2961c" stroke-width="0.13">chr15</text>
<text x="103.5" y="330.35" font-size="4.1" text-anchor="middle" fill="#2a7dc0" stroke="#2a7dc0" stroke-width="0.13">15</text>
<text x="94" y="336.75" font-size="4.1" text-anchor="middle" fill="#c63a2c" stroke="#c63a2c" stroke-width="0.13">chr15</text>
<text x="111" y="337.15" font-size="4.1" text-anchor="middle" fill="#2a7dc0" stroke="#2a7dc0" stroke-width="0.13">14</text>
<text x="103.5" y="341.85" font-size="4.1" text-anchor="middle" fill="#c63a2c" stroke="#c63a2c" stroke-width="0.13">chr14</text>
<text x="82.2" y="344.85" font-size="4.1" text-anchor="middle" fill="#f2961c" stroke="#f2961c" stroke-width="0.13">chr18</text>
<text x="71.9" y="352.15" font-size="4.1" text-anchor="middle" fill="#2a7dc0" stroke="#2a7dc0" stroke-width="0.13">18</text>
<text x="81.7" y="352.35" font-size="4.1" text-anchor="middle" fill="#c63a2c" stroke="#c63a2c" stroke-width="0.13">chr18</text>
<text x="51.7" y="319.75" font-size="4.1" text-anchor="middle" fill="#f2961c" stroke="#f2961c" stroke-width="0.13">chr22</text>
<text x="40" y="321.05" font-size="4.1" text-anchor="middle" fill="#c63a2c" stroke="#c63a2c" stroke-width="0.13">chr22</text>
<text x="33.8" y="327.45" font-size="4.1" text-anchor="middle" fill="#f2961c" stroke="#f2961c" stroke-width="0.13">chr21</text>
<text x="37" y="334.75" font-size="4.1" text-anchor="middle" fill="#2a7dc0" stroke="#2a7dc0" stroke-width="0.13">21</text>
<text x="36.7" y="341.15" font-size="4.1" text-anchor="middle" fill="#c63a2c" stroke="#c63a2c" stroke-width="0.13">chr21</text>
<text x="48.5" y="343.45" font-size="4.1" text-anchor="middle" fill="#2a7dc0" stroke="#2a7dc0" stroke-width="0.13">22</text>
<text x="59.3" y="324.25" font-size="4.1" text-anchor="middle" fill="#2a7dc0" stroke="#2a7dc0" stroke-width="0.13">19</text>
<text x="68.3" y="325.25" font-size="4.1" text-anchor="middle" fill="#f2961c" stroke="#f2961c" stroke-width="0.13">chrY</text>
<text x="48.5" y="328.35" font-size="4.1" text-anchor="middle" fill="#c63a2c" stroke="#c63a2c" stroke-width="0.13">chr19</text>
<text x="55.6" y="339.65" font-size="4.1" text-anchor="middle" fill="#2a7dc0" stroke="#2a7dc0" stroke-width="0.13">Y</text>
<text x="65.4" y="342.45" font-size="4.1" text-anchor="middle" fill="#c63a2c" stroke="#c63a2c" stroke-width="0.13">chr20</text>
<text x="57.4" y="348.45" font-size="4.1" text-anchor="middle" fill="#2a7dc0" stroke="#2a7dc0" stroke-width="0.13">20</text>
<rect x="28.5" y="177.5" width="242.8" height="196.7" fill="none" stroke="#333" stroke-width="0.9"/>
<line x1="44.7" y1="374.2" x2="44.7" y2="375.8" stroke="#333" stroke-width="0.5"/>
<text x="44.7" y="380.4" font-size="5.1" text-anchor="middle" fill="#4d4d4d" stroke="#4d4d4d" stroke-width="0.18">5×10<tspan dy="-1.7" font-size="3.47">7</tspan></text>
<line x1="98.8" y1="374.2" x2="98.8" y2="375.8" stroke="#333" stroke-width="0.5"/>
<text x="98.8" y="380.4" font-size="5.1" text-anchor="middle" fill="#4d4d4d" stroke="#4d4d4d" stroke-width="0.18">1×10<tspan dy="-1.7" font-size="3.47">8</tspan></text>
<line x1="152.8" y1="374.2" x2="152.8" y2="375.8" stroke="#333" stroke-width="0.5"/>
<text x="152.8" y="380.4" font-size="5.1" text-anchor="middle" fill="#4d4d4d" stroke="#4d4d4d" stroke-width="0.18">1.5×10<tspan dy="-1.7" font-size="3.47">8</tspan></text>
<line x1="206.8" y1="374.2" x2="206.8" y2="375.8" stroke="#333" stroke-width="0.5"/>
<text x="206.8" y="380.4" font-size="5.1" text-anchor="middle" fill="#4d4d4d" stroke="#4d4d4d" stroke-width="0.18">2×10<tspan dy="-1.7" font-size="3.47">8</tspan></text>
<line x1="260.9" y1="374.2" x2="260.9" y2="375.8" stroke="#333" stroke-width="0.5"/>
<text x="260.9" y="380.4" font-size="5.1" text-anchor="middle" fill="#4d4d4d" stroke="#4d4d4d" stroke-width="0.18">2.5×10<tspan dy="-1.7" font-size="3.47">8</tspan></text>
<line x1="26.9" y1="350.6" x2="28.5" y2="350.6" stroke="#333" stroke-width="0.5"/>
<text x="26.2" y="352.6" font-size="4.8" text-anchor="end" fill="#4d4d4d" stroke="#4d4d4d" stroke-width="0.13">0</text>
<line x1="26.9" y1="309.6" x2="28.5" y2="309.6" stroke="#333" stroke-width="0.5"/>
<text x="26.2" y="311.6" font-size="4.8" text-anchor="end" fill="#4d4d4d" stroke="#4d4d4d" stroke-width="0.13">25,000</text>
<line x1="26.9" y1="268.6" x2="28.5" y2="268.6" stroke="#333" stroke-width="0.5"/>
<text x="26.2" y="270.6" font-size="4.8" text-anchor="end" fill="#4d4d4d" stroke="#4d4d4d" stroke-width="0.13">50,000</text>
<line x1="26.9" y1="227.6" x2="28.5" y2="227.6" stroke="#333" stroke-width="0.5"/>
<text x="26.2" y="229.6" font-size="4.8" text-anchor="end" fill="#4d4d4d" stroke="#4d4d4d" stroke-width="0.13">75,000</text>
<line x1="26.9" y1="186.6" x2="28.5" y2="186.6" stroke="#333" stroke-width="0.5"/>
<text x="26.2" y="188.6" font-size="4.8" text-anchor="end" fill="#4d4d4d" stroke="#4d4d4d" stroke-width="0.13">100,000</text>
<text x="121.8" y="386.8" font-size="6.2" fill="#111" stroke="#111" stroke-width="0.18">Chromosome length</text>
<text transform="translate(9.9,275.8) rotate(-90)" font-size="6.3" text-anchor="middle" fill="#111" stroke="#111" stroke-width="0.18">NUMTs length</text>
<text x="50.1" y="210.5" font-size="6.3" fill="#111" stroke="#111" stroke-width="0.18">GENOME</text>
<rect x="53.0" y="214.10" width="7.5" height="7.8" fill="#e3e3e3"/>
<line x1="53.7" y1="218.00" x2="60.0" y2="218.00" stroke="#2a7dc0" stroke-width="1.1"/>
<circle cx="56.75" cy="218.00" r="0.95" fill="#2a7dc0"/>
<text x="62.8" y="219.80" font-size="5.2" fill="#111" stroke="#111" stroke-width="0.18">hg19</text>
<rect x="53.0" y="221.90" width="7.5" height="7.8" fill="#e3e3e3"/>
<line x1="53.7" y1="225.80" x2="60.0" y2="225.80" stroke="#c63a2c" stroke-width="1.1"/>
<circle cx="56.75" cy="225.80" r="0.95" fill="#c63a2c"/>
<text x="62.8" y="227.60" font-size="5.2" fill="#111" stroke="#111" stroke-width="0.18">hg38</text>
<rect x="53.0" y="229.70" width="7.5" height="7.8" fill="#e3e3e3"/>
<line x1="53.7" y1="233.60" x2="60.0" y2="233.60" stroke="#f2961c" stroke-width="1.1"/>
<circle cx="56.75" cy="233.60" r="0.95" fill="#f2961c"/>
<text x="62.8" y="235.40" font-size="5.2" fill="#111" stroke="#111" stroke-width="0.18">T2T</text>
</g>
<g id="panelD">
<text x="281.6" y="174.8" font-size="14.1" fill="#000" stroke="#000" stroke-width="0.3">D</text>
<rect x="290.7" y="177.7" width="254.50000000000006" height="196.5" fill="#fff"/>
<line x1="335.4" y1="177.7" x2="335.4" y2="374.2" stroke="#f2f2f2" stroke-width="0.35"/>
<line x1="392.5" y1="177.7" x2="392.5" y2="374.2" stroke="#f2f2f2" stroke-width="0.35"/>
<line x1="449.6" y1="177.7" x2="449.6" y2="374.2" stroke="#f2f2f2" stroke-width="0.35"/>
<line x1="506.7" y1="177.7" x2="506.7" y2="374.2" stroke="#f2f2f2" stroke-width="0.35"/>
<line x1="290.7" y1="341.2" x2="545.2" y2="341.2" stroke="#f2f2f2" stroke-width="0.35"/>
<line x1="290.7" y1="293.6" x2="545.2" y2="293.6" stroke="#f2f2f2" stroke-width="0.35"/>
<line x1="290.7" y1="246.0" x2="545.2" y2="246.0" stroke="#f2f2f2" stroke-width="0.35"/>
<line x1="306.8" y1="177.7" x2="306.8" y2="374.2" stroke="#e9e9e9" stroke-width="0.55"/>
<line x1="363.9" y1="177.7" x2="363.9" y2="374.2" stroke="#e9e9e9" stroke-width="0.55"/>
<line x1="421.0" y1="177.7" x2="421.0" y2="374.2" stroke="#e9e9e9" stroke-width="0.55"/>
<line x1="478.1" y1="177.7" x2="478.1" y2="374.2" stroke="#e9e9e9" stroke-width="0.55"/>
<line x1="535.2" y1="177.7" x2="535.2" y2="374.2" stroke="#e9e9e9" stroke-width="0.55"/>
<line x1="290.7" y1="365.0" x2="545.2" y2="365.0" stroke="#e9e9e9" stroke-width="0.55"/>
<line x1="290.7" y1="317.4" x2="545.2" y2="317.4" stroke="#e9e9e9" stroke-width="0.55"/>
<line x1="290.7" y1="269.8" x2="545.2" y2="269.8" stroke="#e9e9e9" stroke-width="0.55"/>
<line x1="290.7" y1="222.2" x2="545.2" y2="222.2" stroke="#e9e9e9" stroke-width="0.55"/>
<path d="M302.0,334.2 L307.8,332.1 L313.6,329.9 L319.4,327.8 L325.2,325.7 L331.0,323.5 L336.8,321.3 L342.6,319.1 L348.4,316.8 L354.2,314.6 L360.0,312.2 L365.8,309.9 L371.6,307.5 L377.4,305.0 L383.2,302.5 L389.0,299.9 L394.8,297.2 L400.6,294.4 L406.4,291.6 L412.2,288.7 L418.0,285.8 L423.8,282.8 L429.6,279.7 L435.4,276.6 L441.2,273.4 L447.0,270.2 L452.8,267.0 L458.6,263.7 L464.4,260.4 L470.2,257.1 L476.0,253.8 L481.8,250.4 L487.6,247.1 L493.4,243.7 L499.2,240.3 L505.0,236.9 L510.8,233.5 L516.6,230.1 L522.4,226.7 L528.2,223.3 L534.0,219.9 L534.0,258.1 L528.2,260.2 L522.4,262.2 L516.6,264.3 L510.8,266.4 L505.0,268.5 L499.2,270.5 L493.4,272.6 L487.6,274.7 L481.8,276.9 L476.0,279.0 L470.2,281.1 L464.4,283.3 L458.6,285.5 L452.8,287.7 L447.0,289.9 L441.2,292.2 L435.4,294.5 L429.6,296.9 L423.8,299.3 L418.0,301.7 L412.2,304.2 L406.4,306.8 L400.6,309.5 L394.8,312.2 L389.0,315.0 L383.2,317.9 L377.4,320.8 L371.6,323.8 L365.8,326.9 L360.0,330.0 L354.2,333.2 L348.4,336.4 L342.6,339.6 L336.8,342.8 L331.0,346.1 L325.2,349.4 L319.4,352.8 L313.6,356.1 L307.8,359.5 L302.0,362.8Z" fill="#999999" fill-opacity="0.4"/>
<path d="M302.0,327.2 L307.8,325.5 L313.6,323.7 L319.4,321.9 L325.2,320.1 L331.0,318.2 L336.8,316.4 L342.6,314.5 L348.4,312.5 L354.2,310.6 L360.0,308.5 L365.8,306.4 L371.6,304.3 L377.4,302.1 L383.2,299.8 L389.0,297.4 L394.8,294.9 L400.6,292.3 L406.4,289.7 L412.2,286.9 L418.0,284.0 L423.8,281.1 L429.6,278.1 L435.4,275.0 L441.2,271.9 L447.0,268.7 L452.8,265.5 L458.6,262.3 L464.4,259.0 L470.2,255.7 L476.0,252.4 L481.8,249.0 L487.6,245.7 L493.4,242.3 L499.2,238.9 L505.0,235.5 L510.8,232.1 L516.6,228.7 L522.4,225.3 L528.2,221.9 L534.0,218.4 L534.0,266.2 L528.2,267.9 L522.4,269.6 L516.6,271.3 L510.8,273.0 L505.0,274.7 L499.2,276.5 L493.4,278.2 L487.6,280.0 L481.8,281.8 L476.0,283.6 L470.2,285.4 L464.4,287.2 L458.6,289.1 L452.8,291.0 L447.0,292.9 L441.2,294.9 L435.4,296.9 L429.6,298.9 L423.8,301.1 L418.0,303.3 L412.2,305.5 L406.4,307.9 L400.6,310.4 L394.8,312.9 L389.0,315.6 L383.2,318.3 L377.4,321.2 L371.6,324.1 L365.8,327.1 L360.0,330.1 L354.2,333.2 L348.4,336.4 L342.6,339.6 L336.8,342.8 L331.0,346.1 L325.2,349.4 L319.4,352.7 L313.6,356.0 L307.8,359.4 L302.0,362.8Z" fill="#999999" fill-opacity="0.4"/>
<path d="M302.0,327.7 L307.8,325.9 L313.6,324.0 L319.4,322.2 L325.2,320.3 L331.0,318.4 L336.8,316.5 L342.6,314.5 L348.4,312.5 L354.2,310.5 L360.0,308.5 L365.8,306.4 L371.6,304.2 L377.4,302.0 L383.2,299.7 L389.0,297.3 L394.8,294.9 L400.6,292.3 L406.4,289.7 L412.2,287.0 L418.0,284.3 L423.8,281.5 L429.6,278.6 L435.4,275.7 L441.2,272.7 L447.0,269.7 L452.8,266.6 L458.6,263.5 L464.4,260.4 L470.2,257.3 L476.0,254.1 L481.8,250.9 L487.6,247.7 L493.4,244.5 L499.2,241.3 L505.0,238.1 L510.8,234.9 L516.6,231.6 L522.4,228.4 L528.2,225.1 L534.0,221.8 L534.0,264.2 L528.2,265.9 L522.4,267.7 L516.6,269.5 L510.8,271.3 L505.0,273.1 L499.2,274.9 L493.4,276.7 L487.6,278.5 L481.8,280.3 L476.0,282.2 L470.2,284.1 L464.4,286.0 L458.6,287.9 L452.8,289.8 L447.0,291.8 L441.2,293.8 L435.4,295.8 L429.6,297.9 L423.8,300.1 L418.0,302.3 L412.2,304.6 L406.4,306.9 L400.6,309.4 L394.8,311.9 L389.0,314.4 L383.2,317.1 L377.4,319.8 L371.6,322.6 L365.8,325.5 L360.0,328.4 L354.2,331.4 L348.4,334.4 L342.6,337.5 L336.8,340.5 L331.0,343.6 L325.2,346.8 L319.4,349.9 L313.6,353.1 L307.8,356.3 L302.0,359.5Z" fill="#999999" fill-opacity="0.4"/>
<line x1="302.0" y1="348.5" x2="534.0" y2="239.0" stroke="#2a7dc0" stroke-width="1.2"/>
<line x1="302.0" y1="345.0" x2="534.0" y2="242.3" stroke="#c63a2c" stroke-width="1.0" stroke-dasharray="4.5 3"/>
<line x1="302.0" y1="343.6" x2="534.0" y2="243.0" stroke="#f2961c" stroke-width="1.5" stroke-dasharray="7 3.5"/>
<line x1="433.3" y1="304.2" x2="438" y2="299.5" stroke="#2a7dc0" stroke-width="0.6"/>
<line x1="438" y1="299.5" x2="445" y2="297.2" stroke="#2a7dc0" stroke-width="0.6"/>
<line x1="323.6" y1="334.8" x2="321.5" y2="341" stroke="#c63a2c" stroke-width="0.6"/>
<line x1="403.6" y1="288.6" x2="404.2" y2="297.6" stroke="#2a7dc0" stroke-width="0.6"/>
<line x1="417.5" y1="298.4" x2="412.3" y2="297.4" stroke="#2a7dc0" stroke-width="0.6"/>
<line x1="339" y1="349.5" x2="341.6" y2="346.2" stroke="#c63a2c" stroke-width="0.6"/>
<circle cx="533.9" cy="267" r="1.05" fill="#2a7dc0"/>
<rect x="531.40" y="277.00" width="2" height="2" fill="#f2961c"/>
<path d="M533.9,281.09999999999997 L535.15,283.34999999999997 L532.65,283.34999999999997Z" fill="#c63a2c"/>
<circle cx="527.4" cy="186.9" r="1.05" fill="#2a7dc0"/>
<path d="M526.4,185.29999999999998 L527.65,187.54999999999998 L525.15,187.54999999999998Z" fill="#c63a2c"/>
<rect x="525.80" y="185.00" width="2" height="2" fill="#f2961c"/>
<rect x="478.40" y="269.40" width="2" height="2" fill="#f2961c"/>
<path d="M476,273.7 L477.25,275.95 L474.75,275.95Z" fill="#c63a2c"/>
<circle cx="476.6" cy="275.3" r="1.05" fill="#2a7dc0"/>
<rect x="469.60" y="281.60" width="2" height="2" fill="#f2961c"/>
<path d="M467,289.5 L468.25,291.75 L465.75,291.75Z" fill="#c63a2c"/>
<circle cx="467.9" cy="291" r="1.05" fill="#2a7dc0"/>
<path d="M457,282.9 L458.25,285.15 L455.75,285.15Z" fill="#c63a2c"/>
<rect x="456.80" y="283.00" width="2" height="2" fill="#f2961c"/>
<circle cx="456.6" cy="284.5" r="1.05" fill="#2a7dc0"/>
<rect x="445.50" y="294.20" width="2" height="2" fill="#f2961c"/>
<path d="M445,295.7 L446.25,297.95 L443.75,297.95Z" fill="#c63a2c"/>
<circle cx="445.4" cy="297.3" r="1.05" fill="#2a7dc0"/>
<path d="M431.8,280.9 L433.05,283.15 L430.55,283.15Z" fill="#c63a2c"/>
<circle cx="435.6" cy="285.7" r="1.05" fill="#2a7dc0"/>
<rect x="433.40" y="284.20" width="2" height="2" fill="#f2961c"/>
<path d="M416,279.9 L417.25,282.15 L414.75,282.15Z" fill="#c63a2c"/>
<circle cx="416.8" cy="281.4" r="1.05" fill="#2a7dc0"/>
<rect x="414.60" y="280.00" width="2" height="2" fill="#f2961c"/>
<path d="M427.4,251.7 L428.65,253.95 L426.15,253.95Z" fill="#c63a2c"/>
<circle cx="428.2" cy="253" r="1.05" fill="#2a7dc0"/>
<rect x="425.10" y="254.80" width="2" height="2" fill="#f2961c"/>
<path d="M408,287.8 L409.25,290.05 L406.75,290.05Z" fill="#c63a2c"/>
<circle cx="411.8" cy="297.3" r="1.05" fill="#2a7dc0"/>
<rect x="418.00" y="291.50" width="2" height="2" fill="#f2961c"/>
<rect x="402.40" y="297.00" width="2" height="2" fill="#f2961c"/>
<circle cx="404.2" cy="298.3" r="1.05" fill="#2a7dc0"/>
<path d="M403,297.3 L404.25,299.55 L401.75,299.55Z" fill="#c63a2c"/>
<rect x="403.60" y="295.00" width="2" height="2" fill="#f2961c"/>
<circle cx="405" cy="300.5" r="1.05" fill="#2a7dc0"/>
<path d="M404,299.7 L405.25,301.95 L402.75,301.95Z" fill="#c63a2c"/>
<rect x="401.60" y="315.00" width="2" height="2" fill="#f2961c"/>
<circle cx="403.2" cy="316.2" r="1.05" fill="#2a7dc0"/>
<path d="M402.2,314.5 L403.45,316.75 L400.95,316.75Z" fill="#c63a2c"/>
<rect x="379.20" y="316.30" width="2" height="2" fill="#f2961c"/>
<path d="M381.1,327.4 L382.35,329.65 L379.85,329.65Z" fill="#c63a2c"/>
<circle cx="381.8" cy="328.9" r="1.05" fill="#2a7dc0"/>
<rect x="364.00" y="323.30" width="2" height="2" fill="#f2961c"/>
<path d="M372.7,343.2 L373.95,345.45 L371.45,345.45Z" fill="#c63a2c"/>
<circle cx="373.2" cy="344.7" r="1.05" fill="#2a7dc0"/>
<path d="M367,333.59999999999997 L368.25,335.84999999999997 L365.75,335.84999999999997Z" fill="#c63a2c"/>
<circle cx="367.5" cy="335.1" r="1.05" fill="#2a7dc0"/>
<rect x="362.00" y="329.00" width="2" height="2" fill="#f2961c"/>
<rect x="359.30" y="337.00" width="2" height="2" fill="#f2961c"/>
<path d="M353.9,338.59999999999997 L355.15,340.84999999999997 L352.65,340.84999999999997Z" fill="#c63a2c"/>
<circle cx="354.5" cy="340.1" r="1.05" fill="#2a7dc0"/>
<circle cx="343.5" cy="327.3" r="1.05" fill="#2a7dc0"/>
<rect x="340.20" y="326.20" width="2" height="2" fill="#f2961c"/>
<rect x="346.00" y="326.20" width="2" height="2" fill="#f2961c"/>
<path d="M346.2,325.4 L347.45,327.65 L344.95,327.65Z" fill="#c63a2c"/>
<circle cx="339.9" cy="346.2" r="1.05" fill="#2a7dc0"/>
<rect x="341.60" y="344.70" width="2" height="2" fill="#f2961c"/>
<path d="M342,344.2 L343.25,346.45 L340.75,346.45Z" fill="#c63a2c"/>
<path d="M317.8,319.4 L319.05,321.65 L316.55,321.65Z" fill="#c63a2c"/>
<circle cx="318.5" cy="320.8" r="1.05" fill="#2a7dc0"/>
<rect x="320.30" y="320.00" width="2" height="2" fill="#f2961c"/>
<rect x="325.40" y="340.20" width="2" height="2" fill="#f2961c"/>
<circle cx="322.6" cy="346.2" r="1.05" fill="#2a7dc0"/>
<path d="M323.9,340.5 L325.15,342.75 L322.65,342.75Z" fill="#c63a2c"/>
<rect x="301.40" y="326.00" width="2" height="2" fill="#f2961c"/>
<path d="M304.5,332.09999999999997 L305.75,334.34999999999997 L303.25,334.34999999999997Z" fill="#c63a2c"/>
<circle cx="305.2" cy="333.5" r="1.05" fill="#2a7dc0"/>
<rect x="308.60" y="313.60" width="2" height="2" fill="#f2961c"/>
<path d="M309.2,327.4 L310.45,329.65 L307.95,329.65Z" fill="#c63a2c"/>
<circle cx="309.4" cy="336.3" r="1.05" fill="#2a7dc0"/>
<circle cx="318.4" cy="343.1" r="1.05" fill="#2a7dc0"/>
<path d="M321.3,340.09999999999997 L322.55,342.34999999999997 L320.05,342.34999999999997Z" fill="#c63a2c"/>
<rect x="318.50" y="343.50" width="2" height="2" fill="#f2961c"/>
<text x="522.3" y="183.55" font-size="4.1" text-anchor="middle" fill="#f2961c" stroke="#f2961c" stroke-width="0.13">chr2</text>
<text x="521.7" y="190.75" font-size="4.1" text-anchor="middle" fill="#c63a2c" stroke="#c63a2c" stroke-width="0.13">chr2</text>
<text x="530.4" y="191.75" font-size="4.1" text-anchor="middle" fill="#2a7dc0" stroke="#2a7dc0" stroke-width="0.13">2</text>
<text x="530.6" y="269.95" font-size="4.1" text-anchor="middle" fill="#2a7dc0" stroke="#2a7dc0" stroke-width="0.13">1</text>
<text x="526.7" y="276.85" font-size="4.1" text-anchor="middle" fill="#f2961c" stroke="#f2961c" stroke-width="0.13">chr1</text>
<text x="538.2" y="287.15" font-size="4.1" text-anchor="middle" fill="#c63a2c" stroke="#c63a2c" stroke-width="0.13">chr1</text>
<text x="484" y="267.95" font-size="4.1" text-anchor="middle" fill="#f2961c" stroke="#f2961c" stroke-width="0.13">chr3</text>
<text x="481.7" y="274.15" font-size="4.1" text-anchor="middle" fill="#c63a2c" stroke="#c63a2c" stroke-width="0.13">chr3</text>
<text x="472.5" y="277.95" font-size="4.1" text-anchor="middle" fill="#2a7dc0" stroke="#2a7dc0" stroke-width="0.13">3</text>
<text x="461.8" y="280.25" font-size="4.1" text-anchor="middle" fill="#f2961c" stroke="#f2961c" stroke-width="0.13">chr5</text>
<text x="453.4" y="287.15" font-size="4.1" text-anchor="middle" fill="#2a7dc0" stroke="#2a7dc0" stroke-width="0.13">5</text>
<text x="462.6" y="288.65" font-size="4.1" text-anchor="middle" fill="#c63a2c" stroke="#c63a2c" stroke-width="0.13">chr5</text>
<text x="475.3" y="287.15" font-size="4.1" text-anchor="middle" fill="#f2961c" stroke="#f2961c" stroke-width="0.13">chr4</text>
<text x="462.1" y="294.85" font-size="4.1" text-anchor="middle" fill="#c63a2c" stroke="#c63a2c" stroke-width="0.13">chr4</text>
<text x="471.5" y="294.45" font-size="4.1" text-anchor="middle" fill="#2a7dc0" stroke="#2a7dc0" stroke-width="0.13">4</text>
<text x="450.3" y="293.75" font-size="4.1" text-anchor="middle" fill="#f2961c" stroke="#f2961c" stroke-width="0.13">chr6</text>
<text x="441.1" y="301.45" font-size="4.1" text-anchor="middle" fill="#c63a2c" stroke="#c63a2c" stroke-width="0.13">chr6</text>
<text x="433.1" y="307.25" font-size="4.1" text-anchor="middle" fill="#2a7dc0" stroke="#2a7dc0" stroke-width="0.13">6</text>
<text x="423.3" y="251.45" font-size="4.1" text-anchor="middle" fill="#2a7dc0" stroke="#2a7dc0" stroke-width="0.13">X</text>
<text x="433" y="250.65" font-size="4.1" text-anchor="middle" fill="#c63a2c" stroke="#c63a2c" stroke-width="0.13">chrX</text>
<text x="421.5" y="260.65" font-size="4.1" text-anchor="middle" fill="#f2961c" stroke="#f2961c" stroke-width="0.13">chrX</text>
<text x="412" y="278.75" font-size="4.1" text-anchor="middle" fill="#c63a2c" stroke="#c63a2c" stroke-width="0.13">chr8</text>
<text x="420.1" y="279.35" font-size="4.1" text-anchor="middle" fill="#2a7dc0" stroke="#2a7dc0" stroke-width="0.13">8</text>
<text x="436.2" y="280.25" font-size="4.1" text-anchor="middle" fill="#c63a2c" stroke="#c63a2c" stroke-width="0.13">chr7</text>
<text x="430.2" y="287.45" font-size="4.1" text-anchor="middle" fill="#2a7dc0" stroke="#2a7dc0" stroke-width="0.13">7</text>
<text x="430.7" y="290.35" font-size="4.1" text-anchor="middle" fill="#f2961c" stroke="#f2961c" stroke-width="0.13">chr7</text>
<text x="403.4" y="288.35" font-size="4.1" text-anchor="middle" fill="#2a7dc0" stroke="#2a7dc0" stroke-width="0.13">10</text>
<text x="412.3" y="286.95" font-size="4.1" text-anchor="middle" fill="#c63a2c" stroke="#c63a2c" stroke-width="0.13">chr9</text>
<text x="422.6" y="286.95" font-size="4.1" text-anchor="middle" fill="#f2961c" stroke="#f2961c" stroke-width="0.13">chr9</text>
<text x="398" y="294.85" font-size="4.1" text-anchor="middle" fill="#f2961c" stroke="#f2961c" stroke-width="0.13">chr10</text>
<text x="411.8" y="294.05" font-size="4.1" text-anchor="middle" fill="#f2961c" stroke="#f2961c" stroke-width="0.13">chr11</text>
<text x="398" y="300.25" font-size="4.1" text-anchor="middle" fill="#f2961c" stroke="#f2961c" stroke-width="0.13">chr8</text>
<text x="418.7" y="300.25" font-size="4.1" text-anchor="middle" fill="#2a7dc0" stroke="#2a7dc0" stroke-width="0.13">9</text>
<text x="411" y="304.55" font-size="4.1" text-anchor="middle" fill="#c63a2c" stroke="#c63a2c" stroke-width="0.13">chr11</text>
<text x="400.3" y="306.65" font-size="4.1" text-anchor="middle" fill="#2a7dc0" stroke="#2a7dc0" stroke-width="0.13">11</text>
<text x="397.2" y="313.25" font-size="4.1" text-anchor="middle" fill="#c63a2c" stroke="#c63a2c" stroke-width="0.13">chr12</text>
<text x="407.2" y="313.75" font-size="4.1" text-anchor="middle" fill="#2a7dc0" stroke="#2a7dc0" stroke-width="0.13">12</text>
<text x="398" y="320.95" font-size="4.1" text-anchor="middle" fill="#f2961c" stroke="#f2961c" stroke-width="0.13">chr12</text>
<text x="385.6" y="325.85" font-size="4.1" text-anchor="middle" fill="#c63a2c" stroke="#c63a2c" stroke-width="0.13">chr13</text>
<text x="385.8" y="332.65" font-size="4.1" text-anchor="middle" fill="#2a7dc0" stroke="#2a7dc0" stroke-width="0.13">13</text>
<text x="394.5" y="320.85" font-size="4.1" text-anchor="middle" fill="#f2961c" stroke="#f2961c" stroke-width="0.13">chr13</text>
<text x="370.8" y="329.85" font-size="4.1" text-anchor="middle" fill="#f2961c" stroke="#f2961c" stroke-width="0.13">chr14</text>
<text x="360" y="335.75" font-size="4.1" text-anchor="middle" fill="#c63a2c" stroke="#c63a2c" stroke-width="0.13">chr15</text>
<text x="371.8" y="335.75" font-size="4.1" text-anchor="middle" fill="#2a7dc0" stroke="#2a7dc0" stroke-width="0.13">15</text>
<text x="347.1" y="343.65" font-size="4.1" text-anchor="middle" fill="#c63a2c" stroke="#c63a2c" stroke-width="0.13">chr16</text>
<text x="358" y="343.65" font-size="4.1" text-anchor="middle" fill="#2a7dc0" stroke="#2a7dc0" stroke-width="0.13">16</text>
<text x="367.6" y="342.35" font-size="4.1" text-anchor="middle" fill="#f2961c" stroke="#f2961c" stroke-width="0.13">chr16</text>
<text x="377.8" y="342.75" font-size="4.1" text-anchor="middle" fill="#2a7dc0" stroke="#2a7dc0" stroke-width="0.13">14</text>
<text x="368" y="349.45" font-size="4.1" text-anchor="middle" fill="#c63a2c" stroke="#c63a2c" stroke-width="0.13">chr14</text>
<text x="342.5" y="324.85" font-size="4.1" text-anchor="middle" fill="#c63a2c" stroke="#c63a2c" stroke-width="0.13">chr17</text>
<text x="354.2" y="330.25" font-size="4.1" text-anchor="middle" fill="#f2961c" stroke="#f2961c" stroke-width="0.13">chr17</text>
<text x="339.4" y="331.45" font-size="4.1" text-anchor="middle" fill="#2a7dc0" stroke="#2a7dc0" stroke-width="0.13">17</text>
<text x="335.4" y="347.15" font-size="4.1" text-anchor="middle" fill="#2a7dc0" stroke="#2a7dc0" stroke-width="0.13">18</text>
<text x="337.3" y="352.25" font-size="4.1" text-anchor="middle" fill="#c63a2c" stroke="#c63a2c" stroke-width="0.13">chr18</text>
<text x="347.6" y="349.65" font-size="4.1" text-anchor="middle" fill="#f2961c" stroke="#f2961c" stroke-width="0.13">chr18</text>
<text x="305" y="312.25" font-size="4.1" text-anchor="middle" fill="#f2961c" stroke="#f2961c" stroke-width="0.13">chr22</text>
<text x="311" y="318.95" font-size="4.1" text-anchor="middle" fill="#c63a2c" stroke="#c63a2c" stroke-width="0.13">chr19</text>
<text x="322" y="318.45" font-size="4.1" text-anchor="middle" fill="#2a7dc0" stroke="#2a7dc0" stroke-width="0.13">19</text>
<text x="298" y="324.95" font-size="4.1" text-anchor="middle" fill="#f2961c" stroke="#f2961c" stroke-width="0.13">chr21</text>
<text x="313.7" y="325.65" font-size="4.1" text-anchor="middle" fill="#c63a2c" stroke="#c63a2c" stroke-width="0.13">chr22</text>
<text x="326.4" y="325.65" font-size="4.1" text-anchor="middle" fill="#f2961c" stroke="#f2961c" stroke-width="0.13">chr19</text>
<text x="306.6" y="330.75" font-size="4.1" text-anchor="middle" fill="#2a7dc0" stroke="#2a7dc0" stroke-width="0.13">21</text>
<text x="299.2" y="337.75" font-size="4.1" text-anchor="middle" fill="#c63a2c" stroke="#c63a2c" stroke-width="0.13">chr21</text>
<text x="313.7" y="336.85" font-size="4.1" text-anchor="middle" fill="#2a7dc0" stroke="#2a7dc0" stroke-width="0.13">22</text>
<text x="324.3" y="334.55" font-size="4.1" text-anchor="middle" fill="#c63a2c" stroke="#c63a2c" stroke-width="0.13">chrY</text>
<text x="320.7" y="340.75" font-size="4.1" text-anchor="middle" fill="#2a7dc0" stroke="#2a7dc0" stroke-width="0.13">Y</text>
<text x="332.8" y="340.75" font-size="4.1" text-anchor="middle" fill="#f2961c" stroke="#f2961c" stroke-width="0.13">chr20</text>
<text x="313" y="344.15" font-size="4.1" text-anchor="middle" fill="#c63a2c" stroke="#c63a2c" stroke-width="0.13">chr20</text>
<text x="317.5" y="349.25" font-size="4.1" text-anchor="middle" fill="#f2961c" stroke="#f2961c" stroke-width="0.13">chrY</text>
<text x="326.7" y="350.55" font-size="4.1" text-anchor="middle" fill="#2a7dc0" stroke="#2a7dc0" stroke-width="0.13">20</text>
<rect x="290.7" y="177.7" width="254.50000000000006" height="196.5" fill="none" stroke="#333" stroke-width="0.9"/>
<line x1="306.8" y1="374.2" x2="306.8" y2="375.8" stroke="#333" stroke-width="0.5"/>
<text x="306.8" y="380.4" font-size="5.1" text-anchor="middle" fill="#4d4d4d" stroke="#4d4d4d" stroke-width="0.18">5×10<tspan dy="-1.7" font-size="3.47">7</tspan></text>
<line x1="363.9" y1="374.2" x2="363.9" y2="375.8" stroke="#333" stroke-width="0.5"/>
<text x="363.9" y="380.4" font-size="5.1" text-anchor="middle" fill="#4d4d4d" stroke="#4d4d4d" stroke-width="0.18">1×10<tspan dy="-1.7" font-size="3.47">8</tspan></text>
<line x1="421.0" y1="374.2" x2="421.0" y2="375.8" stroke="#333" stroke-width="0.5"/>
<text x="421.0" y="380.4" font-size="5.1" text-anchor="middle" fill="#4d4d4d" stroke="#4d4d4d" stroke-width="0.18">1.5×10<tspan dy="-1.7" font-size="3.47">8</tspan></text>
<line x1="478.1" y1="374.2" x2="478.1" y2="375.8" stroke="#333" stroke-width="0.5"/>
<text x="478.1" y="380.4" font-size="5.1" text-anchor="middle" fill="#4d4d4d" stroke="#4d4d4d" stroke-width="0.18">2×10<tspan dy="-1.7" font-size="3.47">8</tspan></text>
<line x1="535.2" y1="374.2" x2="535.2" y2="375.8" stroke="#333" stroke-width="0.5"/>
<text x="535.2" y="380.4" font-size="5.1" text-anchor="middle" fill="#4d4d4d" stroke="#4d4d4d" stroke-width="0.18">2.5×10<tspan dy="-1.7" font-size="3.47">8</tspan></text>
<line x1="289.09999999999997" y1="365.0" x2="290.7" y2="365.0" stroke="#333" stroke-width="0.5"/>
<text x="288.4" y="367.0" font-size="4.8" text-anchor="end" fill="#4d4d4d" stroke="#4d4d4d" stroke-width="0.13">0</text>
<line x1="289.09999999999997" y1="317.4" x2="290.7" y2="317.4" stroke="#333" stroke-width="0.5"/>
<text x="288.4" y="319.4" font-size="4.8" text-anchor="end" fill="#4d4d4d" stroke="#4d4d4d" stroke-width="0.13">30</text>
<line x1="289.09999999999997" y1="269.8" x2="290.7" y2="269.8" stroke="#333" stroke-width="0.5"/>
<text x="288.4" y="271.8" font-size="4.8" text-anchor="end" fill="#4d4d4d" stroke="#4d4d4d" stroke-width="0.13">60</text>
<line x1="289.09999999999997" y1="222.2" x2="290.7" y2="222.2" stroke="#333" stroke-width="0.5"/>
<text x="288.4" y="224.2" font-size="4.8" text-anchor="end" fill="#4d4d4d" stroke="#4d4d4d" stroke-width="0.13">90</text>
<text x="388.2" y="386.8" font-size="6.2" fill="#111" stroke="#111" stroke-width="0.18">Chromosome length</text>
<text transform="translate(281.2,274.8) rotate(-90)" font-size="6.3" text-anchor="middle" fill="#111" stroke="#111" stroke-width="0.18">NUMTs number</text>
<text x="315.0" y="226.6" font-size="6.3" fill="#111" stroke="#111" stroke-width="0.18">GENOME</text>
<rect x="318.8" y="229.30" width="7.0" height="7.2" fill="#e3e3e3"/>
<line x1="319.5" y1="232.90" x2="325.3" y2="232.90" stroke="#2a7dc0" stroke-width="1.1"/>
<circle cx="322.3" cy="232.90" r="0.95" fill="#2a7dc0"/>
<text x="327.0" y="234.70" font-size="5.2" fill="#111" stroke="#111" stroke-width="0.18">hg19</text>
<rect x="318.8" y="236.50" width="7.0" height="7.2" fill="#e3e3e3"/>
<line x1="319.5" y1="240.10" x2="325.3" y2="240.10" stroke="#c63a2c" stroke-width="1.1"/>
<circle cx="322.3" cy="240.10" r="0.95" fill="#c63a2c"/>
<text x="327.0" y="241.90" font-size="5.2" fill="#111" stroke="#111" stroke-width="0.18">hg38</text>
<rect x="318.8" y="243.70" width="7.0" height="7.2" fill="#e3e3e3"/>
<line x1="319.5" y1="247.30" x2="325.3" y2="247.30" stroke="#f2961c" stroke-width="1.1"/>
<circle cx="322.3" cy="247.30" r="0.95" fill="#f2961c"/>
<text x="327.0" y="249.10" font-size="5.2" fill="#111" stroke="#111" stroke-width="0.18">T2T</text>
</g>
</svg>
</body></html>
